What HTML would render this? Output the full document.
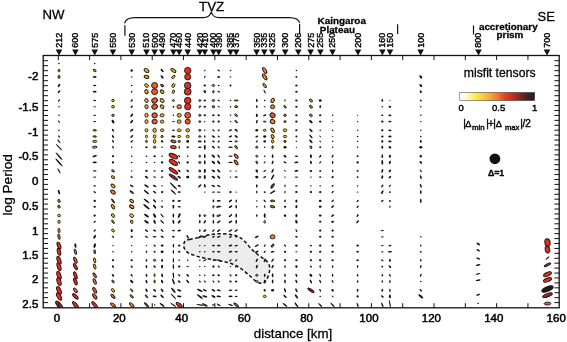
<!DOCTYPE html>
<html lang="en"><head><meta charset="utf-8"><title>misfit tensors</title>
<style>html,body{margin:0;padding:0;background:#fff;}svg{display:block;}text{font-family:"Liberation Sans",Arial,Helvetica,sans-serif;fill:#000;stroke:#000;stroke-width:0.28px;}.tk{stroke-width:0.5px;}.st{stroke-width:0.38px;}.cb{stroke-width:0.42px;}.fm{stroke-width:0.4px;}</style>
</head><body>
<svg width="567" height="342" viewBox="0 0 567 342">
<rect x="0" y="0" width="567" height="342" fill="#ffffff"/>
<defs><linearGradient id="cb" x1="0" y1="0" x2="1" y2="0"><stop offset="0" stop-color="#ffffff"/><stop offset="0.08" stop-color="#fffbe0"/><stop offset="0.2" stop-color="#fbee4a"/><stop offset="0.35" stop-color="#f7c038"/><stop offset="0.5" stop-color="#f07a2c"/><stop offset="0.62" stop-color="#e23a22"/><stop offset="0.75" stop-color="#a82a20"/><stop offset="0.88" stop-color="#4a2624"/><stop offset="1" stop-color="#1e1e20"/></linearGradient><clipPath id="pc"><rect x="43.2" y="55.5" width="516.0" height="252.3"/></clipPath></defs>
<path d="M189.5,239.5C191.6,239.0 195.2,238.3 198.3,237.6C201.4,236.9 204.4,235.8 208.0,235.1C211.6,234.4 215.7,233.8 219.6,233.7C223.5,233.6 228.1,234.1 231.3,234.7C234.5,235.2 236.8,235.9 239.0,237.0C241.2,238.1 242.7,239.5 244.8,241.5C246.9,243.5 249.3,246.9 251.6,249.2C253.9,251.5 256.1,253.3 258.4,255.1C260.7,256.9 263.4,258.3 265.2,259.9C267.0,261.5 268.4,263.0 269.1,264.8C269.8,266.6 269.8,268.5 269.6,270.6C269.4,272.7 268.5,275.4 267.7,277.4C266.9,279.4 265.8,281.4 264.6,282.4C263.4,283.4 261.9,283.4 260.4,283.2C258.9,282.9 257.3,282.1 255.5,280.9C253.7,279.7 251.8,277.6 249.7,275.8C247.6,274.0 245.3,271.8 242.9,270.0C240.5,268.2 237.8,266.6 235.1,265.3C232.3,264.0 229.5,263.0 226.4,262.2C223.3,261.4 220.1,260.9 216.7,260.3C213.3,259.7 209.4,259.1 206.0,258.4C202.6,257.7 199.2,256.9 196.3,256.0C193.4,255.1 190.5,254.2 188.6,253.1C186.7,252.0 185.5,250.6 184.7,249.2C183.9,247.8 183.5,245.8 183.7,244.4C183.9,243.0 184.7,241.3 185.7,240.5C186.7,239.7 187.4,240.0 189.5,239.5Z" fill="#ececec" stroke="#111" stroke-width="1.5" stroke-dasharray="3.4 2.3" stroke-linecap="butt"/>
<g clip-path="url(#pc)">
<ellipse cx="59.0" cy="63.5" rx="0.80" ry="0.72" fill="#111111"/>
<ellipse cx="59.0" cy="70.5" rx="1.35" ry="0.95" fill="#9a9833" stroke="#201e0c" stroke-width="0.9" transform="rotate(90 59.0 70.5)"/>
<ellipse cx="59.0" cy="76.9" rx="1.55" ry="1.05" fill="#9a9833" stroke="#201e0c" stroke-width="0.9" transform="rotate(90 59.0 76.9)"/>
<ellipse cx="59.0" cy="85.5" rx="1.90" ry="0.92" fill="#111111" transform="rotate(-55 59.0 85.5)"/>
<ellipse cx="59.0" cy="91.7" rx="1.80" ry="0.82" fill="#111111" transform="rotate(-50 59.0 91.7)"/>
<ellipse cx="59.0" cy="100.5" rx="1.40" ry="0.62" fill="#111111" transform="rotate(-50 59.0 100.5)"/>
<ellipse cx="59.0" cy="106.7" rx="0.80" ry="0.72" fill="#111111"/>
<ellipse cx="59.0" cy="115.3" rx="0.80" ry="0.72" fill="#111111"/>
<ellipse cx="59.0" cy="121.6" rx="1.30" ry="0.62" fill="#111111" transform="rotate(45 59.0 121.6)"/>
<ellipse cx="59.0" cy="130.3" rx="0.80" ry="0.72" fill="#111111"/>
<ellipse cx="59.0" cy="136.5" rx="1.40" ry="0.62" fill="#111111" transform="rotate(50 59.0 136.5)"/>
<ellipse cx="59.0" cy="141.4" rx="2.30" ry="0.62" fill="#111111" transform="rotate(50 59.0 141.4)"/>
<ellipse cx="59.0" cy="147.2" rx="4.40" ry="0.62" fill="#111111" transform="rotate(48 59.0 147.2)"/>
<ellipse cx="59.0" cy="156.2" rx="4.90" ry="0.67" fill="#111111" transform="rotate(48 59.0 156.2)"/>
<ellipse cx="59.0" cy="162.4" rx="5.30" ry="0.77" fill="#111111" transform="rotate(48 59.0 162.4)"/>
<ellipse cx="59.0" cy="170.9" rx="2.90" ry="0.57" fill="#111111" transform="rotate(60 59.0 170.9)"/>
<ellipse cx="59.0" cy="192.1" rx="2.40" ry="0.92" fill="#111111" transform="rotate(70 59.0 192.1)"/>
<ellipse cx="59.0" cy="200.9" rx="1.45" ry="1.05" fill="#9a9833" stroke="#201e0c" stroke-width="0.9" transform="rotate(60 59.0 200.9)"/>
<ellipse cx="59.0" cy="206.7" rx="1.45" ry="1.05" fill="#9a9833" stroke="#201e0c" stroke-width="0.9" transform="rotate(60 59.0 206.7)"/>
<ellipse cx="59.0" cy="215.6" rx="1.45" ry="1.25" fill="#e2cd35" stroke="#201e0c" stroke-width="0.9"/>
<ellipse cx="59.0" cy="221.8" rx="1.65" ry="1.15" fill="#e2cd35" stroke="#201e0c" stroke-width="0.9" transform="rotate(90 59.0 221.8)"/>
<ellipse cx="59.0" cy="230.6" rx="2.42" ry="1.02" fill="#f3ac33" stroke="#201e0c" stroke-width="0.95" transform="rotate(85 59.0 230.6)"/>
<ellipse cx="59.0" cy="236.8" rx="2.62" ry="1.02" fill="#ee8632" stroke="#24100c" stroke-width="0.95" transform="rotate(80 59.0 236.8)"/>
<ellipse cx="59.0" cy="245.6" rx="3.62" ry="1.62" fill="#dd3023" stroke="#24100c" stroke-width="0.95" transform="rotate(70 59.0 245.6)"/>
<ellipse cx="59.0" cy="251.8" rx="3.62" ry="1.62" fill="#dd3023" stroke="#24100c" stroke-width="0.95" transform="rotate(75 59.0 251.8)"/>
<ellipse cx="59.0" cy="260.3" rx="4.12" ry="1.73" fill="#dd3023" stroke="#24100c" stroke-width="0.95" transform="rotate(70 59.0 260.3)"/>
<ellipse cx="59.0" cy="266.6" rx="4.12" ry="1.73" fill="#dd3023" stroke="#24100c" stroke-width="0.95" transform="rotate(72 59.0 266.6)"/>
<ellipse cx="59.0" cy="275.3" rx="4.12" ry="1.83" fill="#dd3023" stroke="#24100c" stroke-width="0.95" transform="rotate(70 59.0 275.3)"/>
<ellipse cx="59.0" cy="281.5" rx="4.12" ry="1.83" fill="#dd3023" stroke="#24100c" stroke-width="0.95" transform="rotate(72 59.0 281.5)"/>
<ellipse cx="59.0" cy="290.3" rx="4.12" ry="1.83" fill="#dd3023" stroke="#24100c" stroke-width="0.95" transform="rotate(65 59.0 290.3)"/>
<ellipse cx="59.0" cy="296.4" rx="4.12" ry="1.83" fill="#dd3023" stroke="#24100c" stroke-width="0.95" transform="rotate(60 59.0 296.4)"/>
<ellipse cx="59.0" cy="304.9" rx="4.62" ry="1.92" fill="#8f2a20" stroke="#24100c" stroke-width="0.95" transform="rotate(50 59.0 304.9)"/>
<ellipse cx="75.4" cy="245.6" rx="2.30" ry="1.02" fill="#111111" transform="rotate(80 75.4 245.6)"/>
<ellipse cx="75.4" cy="251.8" rx="2.62" ry="1.02" fill="#ee8632" stroke="#24100c" stroke-width="0.95" transform="rotate(75 75.4 251.8)"/>
<ellipse cx="75.4" cy="260.3" rx="3.23" ry="1.33" fill="#ea5a2c" stroke="#24100c" stroke-width="0.95" transform="rotate(68 75.4 260.3)"/>
<ellipse cx="75.4" cy="266.6" rx="3.42" ry="1.33" fill="#dd3023" stroke="#24100c" stroke-width="0.95" transform="rotate(62 75.4 266.6)"/>
<ellipse cx="75.4" cy="275.3" rx="3.62" ry="1.43" fill="#dd3023" stroke="#24100c" stroke-width="0.95" transform="rotate(70 75.4 275.3)"/>
<ellipse cx="75.4" cy="281.5" rx="3.62" ry="1.43" fill="#dd3023" stroke="#24100c" stroke-width="0.95" transform="rotate(70 75.4 281.5)"/>
<ellipse cx="75.4" cy="290.3" rx="2.62" ry="1.23" fill="#ee8632" stroke="#24100c" stroke-width="0.95" transform="rotate(50 75.4 290.3)"/>
<ellipse cx="75.4" cy="296.4" rx="3.62" ry="1.43" fill="#dd3023" stroke="#24100c" stroke-width="0.95" transform="rotate(45 75.4 296.4)"/>
<ellipse cx="75.4" cy="304.9" rx="4.12" ry="1.52" fill="#dd3023" stroke="#24100c" stroke-width="0.95" transform="rotate(50 75.4 304.9)"/>
<ellipse cx="94.7" cy="63.5" rx="0.80" ry="0.72" fill="#111111"/>
<ellipse cx="94.7" cy="70.5" rx="1.45" ry="1.05" fill="#e2cd35" stroke="#201e0c" stroke-width="0.9" transform="rotate(30 94.7 70.5)"/>
<ellipse cx="94.7" cy="76.9" rx="1.90" ry="0.92" fill="#111111"/>
<ellipse cx="94.7" cy="85.5" rx="1.70" ry="0.72" fill="#111111"/>
<ellipse cx="94.7" cy="91.7" rx="1.90" ry="0.92" fill="#111111"/>
<ellipse cx="94.7" cy="100.5" rx="1.40" ry="0.72" fill="#111111"/>
<ellipse cx="94.7" cy="106.7" rx="1.30" ry="0.57" fill="#111111"/>
<ellipse cx="94.7" cy="115.3" rx="1.50" ry="0.62" fill="#111111"/>
<ellipse cx="94.7" cy="121.6" rx="1.50" ry="0.72" fill="#111111"/>
<ellipse cx="94.7" cy="130.3" rx="1.85" ry="0.65" fill="#9a9833" stroke="#201e0c" stroke-width="0.9" transform="rotate(5 94.7 130.3)"/>
<ellipse cx="94.7" cy="136.5" rx="1.85" ry="0.65" fill="#9a9833" stroke="#201e0c" stroke-width="0.9" transform="rotate(5 94.7 136.5)"/>
<ellipse cx="94.7" cy="141.4" rx="2.12" ry="1.02" fill="#e2cd35" stroke="#201e0c" stroke-width="0.95"/>
<ellipse cx="94.7" cy="147.2" rx="2.12" ry="0.93" fill="#e2cd35" stroke="#201e0c" stroke-width="0.95" transform="rotate(-8 94.7 147.2)"/>
<ellipse cx="94.7" cy="156.2" rx="2.30" ry="0.92" fill="#111111" transform="rotate(-15 94.7 156.2)"/>
<ellipse cx="94.7" cy="162.4" rx="2.10" ry="0.92" fill="#111111" transform="rotate(-5 94.7 162.4)"/>
<ellipse cx="94.7" cy="170.9" rx="1.90" ry="0.72" fill="#111111"/>
<ellipse cx="94.7" cy="177.1" rx="1.70" ry="0.62" fill="#111111"/>
<ellipse cx="94.7" cy="185.9" rx="1.40" ry="0.72" fill="#111111"/>
<ellipse cx="94.7" cy="192.1" rx="1.40" ry="0.72" fill="#111111" transform="rotate(35 94.7 192.1)"/>
<ellipse cx="94.7" cy="200.9" rx="1.20" ry="1.07" fill="#111111"/>
<ellipse cx="94.7" cy="206.7" rx="1.20" ry="1.07" fill="#111111"/>
<ellipse cx="94.7" cy="215.6" rx="1.20" ry="1.07" fill="#111111"/>
<ellipse cx="94.7" cy="221.8" rx="1.40" ry="0.72" fill="#111111" transform="rotate(-45 94.7 221.8)"/>
<ellipse cx="94.7" cy="230.6" rx="1.50" ry="0.72" fill="#111111" transform="rotate(-50 94.7 230.6)"/>
<ellipse cx="94.7" cy="236.8" rx="2.10" ry="1.02" fill="#111111" transform="rotate(-65 94.7 236.8)"/>
<ellipse cx="94.7" cy="245.6" rx="2.40" ry="1.12" fill="#111111" transform="rotate(-75 94.7 245.6)"/>
<ellipse cx="94.7" cy="251.8" rx="2.12" ry="0.82" fill="#9a9833" stroke="#201e0c" stroke-width="0.95" transform="rotate(85 94.7 251.8)"/>
<ellipse cx="94.7" cy="260.3" rx="2.42" ry="1.02" fill="#e2cd35" stroke="#201e0c" stroke-width="0.95" transform="rotate(78 94.7 260.3)"/>
<ellipse cx="94.7" cy="266.6" rx="2.62" ry="1.12" fill="#f3ac33" stroke="#201e0c" stroke-width="0.95" transform="rotate(72 94.7 266.6)"/>
<ellipse cx="94.7" cy="275.3" rx="2.62" ry="1.12" fill="#ee8632" stroke="#24100c" stroke-width="0.95" transform="rotate(60 94.7 275.3)"/>
<ellipse cx="94.7" cy="281.5" rx="2.83" ry="1.23" fill="#ee8632" stroke="#24100c" stroke-width="0.95" transform="rotate(65 94.7 281.5)"/>
<ellipse cx="94.7" cy="290.3" rx="3.12" ry="1.33" fill="#ea5a2c" stroke="#24100c" stroke-width="0.95" transform="rotate(60 94.7 290.3)"/>
<ellipse cx="94.7" cy="296.4" rx="3.12" ry="1.43" fill="#ea5a2c" stroke="#24100c" stroke-width="0.95" transform="rotate(55 94.7 296.4)"/>
<ellipse cx="94.7" cy="304.9" rx="4.12" ry="1.43" fill="#dd3023" stroke="#24100c" stroke-width="0.95" transform="rotate(50 94.7 304.9)"/>
<ellipse cx="113.0" cy="100.5" rx="1.35" ry="1.15" fill="#e2cd35" stroke="#201e0c" stroke-width="0.9"/>
<ellipse cx="113.0" cy="106.7" rx="1.45" ry="1.25" fill="#e2cd35" stroke="#201e0c" stroke-width="0.9"/>
<ellipse cx="113.0" cy="115.3" rx="1.35" ry="1.05" fill="#9a9833" stroke="#201e0c" stroke-width="0.9"/>
<ellipse cx="113.0" cy="121.6" rx="2.10" ry="1.12" fill="#111111" transform="rotate(60 113.0 121.6)"/>
<ellipse cx="113.0" cy="130.3" rx="1.60" ry="0.82" fill="#111111" transform="rotate(55 113.0 130.3)"/>
<ellipse cx="113.0" cy="136.5" rx="1.70" ry="0.82" fill="#111111" transform="rotate(55 113.0 136.5)"/>
<ellipse cx="113.0" cy="141.4" rx="1.60" ry="0.72" fill="#111111" transform="rotate(55 113.0 141.4)"/>
<ellipse cx="113.0" cy="147.2" rx="1.50" ry="0.72" fill="#111111" transform="rotate(80 113.0 147.2)"/>
<ellipse cx="113.0" cy="156.2" rx="1.20" ry="1.07" fill="#111111"/>
<ellipse cx="113.0" cy="162.4" rx="1.20" ry="1.07" fill="#111111"/>
<ellipse cx="113.0" cy="170.9" rx="1.45" ry="0.85" fill="#9a9833" stroke="#201e0c" stroke-width="0.9" transform="rotate(30 113.0 170.9)"/>
<ellipse cx="113.0" cy="177.1" rx="1.85" ry="1.15" fill="#e2cd35" stroke="#201e0c" stroke-width="0.9" transform="rotate(30 113.0 177.1)"/>
<ellipse cx="113.0" cy="185.9" rx="2.42" ry="1.43" fill="#f3ac33" stroke="#201e0c" stroke-width="0.95" transform="rotate(40 113.0 185.9)"/>
<ellipse cx="113.0" cy="192.1" rx="2.62" ry="1.62" fill="#ee8632" stroke="#24100c" stroke-width="0.95" transform="rotate(40 113.0 192.1)"/>
<ellipse cx="113.0" cy="200.9" rx="2.42" ry="0.62" fill="#9a9833" stroke="#201e0c" stroke-width="0.95" transform="rotate(55 113.0 200.9)"/>
<ellipse cx="113.0" cy="206.7" rx="2.42" ry="1.23" fill="#f3ac33" stroke="#201e0c" stroke-width="0.95" transform="rotate(60 113.0 206.7)"/>
<ellipse cx="113.0" cy="215.6" rx="2.05" ry="1.35" fill="#e2cd35" stroke="#201e0c" stroke-width="0.9" transform="rotate(55 113.0 215.6)"/>
<ellipse cx="113.0" cy="221.8" rx="2.05" ry="0.75" fill="#9a9833" stroke="#201e0c" stroke-width="0.9" transform="rotate(55 113.0 221.8)"/>
<ellipse cx="113.0" cy="230.6" rx="1.65" ry="1.15" fill="#e2cd35" stroke="#201e0c" stroke-width="0.9" transform="rotate(45 113.0 230.6)"/>
<ellipse cx="113.0" cy="236.8" rx="1.50" ry="0.72" fill="#111111" transform="rotate(40 113.0 236.8)"/>
<ellipse cx="113.0" cy="245.6" rx="0.80" ry="0.72" fill="#111111"/>
<ellipse cx="113.0" cy="251.8" rx="0.80" ry="0.72" fill="#111111"/>
<ellipse cx="113.0" cy="260.3" rx="1.20" ry="1.07" fill="#111111"/>
<ellipse cx="113.0" cy="266.6" rx="1.40" ry="0.82" fill="#111111" transform="rotate(50 113.0 266.6)"/>
<ellipse cx="113.0" cy="275.3" rx="1.60" ry="0.92" fill="#111111" transform="rotate(50 113.0 275.3)"/>
<ellipse cx="113.0" cy="281.5" rx="1.65" ry="0.85" fill="#9a9833" stroke="#201e0c" stroke-width="0.9" transform="rotate(55 113.0 281.5)"/>
<ellipse cx="113.0" cy="290.3" rx="2.05" ry="1.25" fill="#e2cd35" stroke="#201e0c" stroke-width="0.9" transform="rotate(50 113.0 290.3)"/>
<ellipse cx="113.0" cy="296.4" rx="2.62" ry="1.12" fill="#ee8632" stroke="#24100c" stroke-width="0.95" transform="rotate(45 113.0 296.4)"/>
<ellipse cx="113.0" cy="304.9" rx="2.92" ry="1.12" fill="#ee8632" stroke="#24100c" stroke-width="0.95" transform="rotate(35 113.0 304.9)"/>
<ellipse cx="131.7" cy="70.5" rx="1.30" ry="1.02" fill="#111111" transform="rotate(-30 131.7 70.5)"/>
<ellipse cx="131.7" cy="76.9" rx="0.80" ry="0.72" fill="#111111"/>
<ellipse cx="131.7" cy="85.5" rx="0.80" ry="0.72" fill="#111111"/>
<ellipse cx="131.7" cy="91.7" rx="1.20" ry="0.62" fill="#111111" transform="rotate(-60 131.7 91.7)"/>
<ellipse cx="131.7" cy="100.5" rx="1.50" ry="0.82" fill="#111111" transform="rotate(-50 131.7 100.5)"/>
<ellipse cx="131.7" cy="106.7" rx="1.50" ry="0.82" fill="#111111" transform="rotate(-50 131.7 106.7)"/>
<ellipse cx="131.7" cy="115.3" rx="2.00" ry="0.92" fill="#111111" transform="rotate(-50 131.7 115.3)"/>
<ellipse cx="131.7" cy="121.6" rx="2.00" ry="0.92" fill="#111111" transform="rotate(-45 131.7 121.6)"/>
<ellipse cx="131.7" cy="130.3" rx="2.00" ry="0.92" fill="#111111" transform="rotate(-40 131.7 130.3)"/>
<ellipse cx="131.7" cy="136.5" rx="1.90" ry="0.82" fill="#111111" transform="rotate(-45 131.7 136.5)"/>
<ellipse cx="131.7" cy="141.4" rx="1.60" ry="0.72" fill="#111111" transform="rotate(-40 131.7 141.4)"/>
<ellipse cx="131.7" cy="147.2" rx="0.80" ry="0.72" fill="#111111"/>
<ellipse cx="131.7" cy="156.2" rx="0.80" ry="0.72" fill="#111111"/>
<ellipse cx="131.7" cy="162.4" rx="0.80" ry="0.72" fill="#111111"/>
<ellipse cx="131.7" cy="170.9" rx="0.80" ry="0.72" fill="#111111"/>
<ellipse cx="131.7" cy="177.1" rx="1.30" ry="0.72" fill="#111111" transform="rotate(35 131.7 177.1)"/>
<ellipse cx="131.7" cy="185.9" rx="2.10" ry="0.82" fill="#111111" transform="rotate(30 131.7 185.9)"/>
<ellipse cx="131.7" cy="192.1" rx="2.12" ry="0.62" fill="#9a9833" stroke="#201e0c" stroke-width="0.95" transform="rotate(35 131.7 192.1)"/>
<ellipse cx="131.7" cy="200.9" rx="2.12" ry="1.33" fill="#e2cd35" stroke="#201e0c" stroke-width="0.95" transform="rotate(35 131.7 200.9)"/>
<ellipse cx="131.7" cy="206.7" rx="2.42" ry="1.52" fill="#ee8632" stroke="#24100c" stroke-width="0.95" transform="rotate(30 131.7 206.7)"/>
<ellipse cx="131.7" cy="215.6" rx="2.05" ry="1.65" fill="#e2cd35" stroke="#201e0c" stroke-width="0.9" transform="rotate(35 131.7 215.6)"/>
<ellipse cx="131.7" cy="221.8" rx="1.65" ry="1.15" fill="#e2cd35" stroke="#201e0c" stroke-width="0.9" transform="rotate(60 131.7 221.8)"/>
<ellipse cx="131.7" cy="230.6" rx="1.70" ry="1.02" fill="#111111" transform="rotate(85 131.7 230.6)"/>
<ellipse cx="131.7" cy="236.8" rx="1.20" ry="1.07" fill="#111111"/>
<ellipse cx="131.7" cy="245.6" rx="0.80" ry="0.72" fill="#111111"/>
<ellipse cx="131.7" cy="251.8" rx="0.80" ry="0.72" fill="#111111"/>
<ellipse cx="131.7" cy="260.3" rx="1.20" ry="1.07" fill="#111111"/>
<ellipse cx="131.7" cy="266.6" rx="1.30" ry="0.82" fill="#111111" transform="rotate(50 131.7 266.6)"/>
<ellipse cx="131.7" cy="275.3" rx="1.50" ry="0.82" fill="#111111" transform="rotate(50 131.7 275.3)"/>
<ellipse cx="131.7" cy="281.5" rx="2.10" ry="1.02" fill="#111111" transform="rotate(45 131.7 281.5)"/>
<ellipse cx="131.7" cy="290.3" rx="1.85" ry="0.65" fill="#9a9833" stroke="#201e0c" stroke-width="0.9" transform="rotate(50 131.7 290.3)"/>
<ellipse cx="131.7" cy="296.4" rx="2.05" ry="0.95" fill="#9a9833" stroke="#201e0c" stroke-width="0.9" transform="rotate(45 131.7 296.4)"/>
<ellipse cx="131.7" cy="304.9" rx="2.83" ry="1.23" fill="#ee8632" stroke="#24100c" stroke-width="0.95" transform="rotate(45 131.7 304.9)"/>
<ellipse cx="146.5" cy="70.5" rx="2.62" ry="1.62" fill="#f3ac33" stroke="#201e0c" stroke-width="0.95" transform="rotate(35 146.5 70.5)"/>
<ellipse cx="146.5" cy="76.9" rx="2.42" ry="1.43" fill="#f3ac33" stroke="#201e0c" stroke-width="0.95" transform="rotate(20 146.5 76.9)"/>
<ellipse cx="146.5" cy="85.5" rx="2.05" ry="1.65" fill="#f3ac33" stroke="#201e0c" stroke-width="0.9" transform="rotate(45 146.5 85.5)"/>
<ellipse cx="146.5" cy="91.7" rx="2.12" ry="1.62" fill="#f3ac33" stroke="#201e0c" stroke-width="0.95" transform="rotate(60 146.5 91.7)"/>
<ellipse cx="146.5" cy="100.5" rx="2.05" ry="1.65" fill="#f3ac33" stroke="#201e0c" stroke-width="0.9" transform="rotate(70 146.5 100.5)"/>
<ellipse cx="146.5" cy="106.7" rx="2.05" ry="1.65" fill="#f3ac33" stroke="#201e0c" stroke-width="0.9" transform="rotate(80 146.5 106.7)"/>
<ellipse cx="146.5" cy="115.3" rx="2.05" ry="1.65" fill="#f3ac33" stroke="#201e0c" stroke-width="0.9" transform="rotate(90 146.5 115.3)"/>
<ellipse cx="146.5" cy="121.6" rx="1.95" ry="1.55" fill="#f3ac33" stroke="#201e0c" stroke-width="0.9" transform="rotate(90 146.5 121.6)"/>
<ellipse cx="146.5" cy="130.3" rx="1.65" ry="1.45" fill="#e2cd35" stroke="#201e0c" stroke-width="0.9" transform="rotate(90 146.5 130.3)"/>
<ellipse cx="146.5" cy="136.5" rx="1.35" ry="1.05" fill="#e2cd35" stroke="#201e0c" stroke-width="0.9" transform="rotate(90 146.5 136.5)"/>
<ellipse cx="146.5" cy="141.4" rx="1.15" ry="0.95" fill="#9a9833" stroke="#201e0c" stroke-width="0.9" transform="rotate(90 146.5 141.4)"/>
<ellipse cx="146.5" cy="147.2" rx="1.20" ry="1.07" fill="#111111"/>
<ellipse cx="146.5" cy="156.2" rx="0.80" ry="0.72" fill="#111111"/>
<ellipse cx="146.5" cy="162.4" rx="0.80" ry="0.72" fill="#111111"/>
<ellipse cx="146.5" cy="170.9" rx="1.20" ry="1.07" fill="#111111"/>
<ellipse cx="146.5" cy="177.1" rx="1.90" ry="0.92" fill="#111111" transform="rotate(30 146.5 177.1)"/>
<ellipse cx="146.5" cy="185.9" rx="2.60" ry="0.92" fill="#111111" transform="rotate(35 146.5 185.9)"/>
<ellipse cx="146.5" cy="192.1" rx="3.30" ry="0.82" fill="#111111" transform="rotate(40 146.5 192.1)"/>
<ellipse cx="146.5" cy="200.9" rx="3.60" ry="0.82" fill="#111111" transform="rotate(40 146.5 200.9)"/>
<ellipse cx="146.5" cy="206.7" rx="4.10" ry="0.92" fill="#111111" transform="rotate(40 146.5 206.7)"/>
<ellipse cx="146.5" cy="215.6" rx="2.90" ry="1.02" fill="#111111" transform="rotate(35 146.5 215.6)"/>
<ellipse cx="146.5" cy="221.8" rx="2.70" ry="1.02" fill="#111111" transform="rotate(35 146.5 221.8)"/>
<ellipse cx="146.5" cy="230.6" rx="1.90" ry="0.82" fill="#111111" transform="rotate(35 146.5 230.6)"/>
<ellipse cx="146.5" cy="236.8" rx="1.70" ry="0.72" fill="#111111" transform="rotate(30 146.5 236.8)"/>
<ellipse cx="146.5" cy="245.6" rx="0.80" ry="0.72" fill="#111111"/>
<ellipse cx="146.5" cy="251.8" rx="1.30" ry="0.72" fill="#111111" transform="rotate(90 146.5 251.8)"/>
<ellipse cx="146.5" cy="260.3" rx="1.50" ry="0.72" fill="#111111" transform="rotate(90 146.5 260.3)"/>
<ellipse cx="146.5" cy="266.6" rx="1.60" ry="0.82" fill="#111111" transform="rotate(90 146.5 266.6)"/>
<ellipse cx="146.5" cy="275.3" rx="1.70" ry="0.82" fill="#111111" transform="rotate(75 146.5 275.3)"/>
<ellipse cx="146.5" cy="281.5" rx="1.90" ry="0.92" fill="#111111" transform="rotate(75 146.5 281.5)"/>
<ellipse cx="146.5" cy="290.3" rx="1.90" ry="0.92" fill="#111111" transform="rotate(60 146.5 290.3)"/>
<ellipse cx="146.5" cy="296.4" rx="1.85" ry="0.65" fill="#9a9833" stroke="#201e0c" stroke-width="0.9" transform="rotate(55 146.5 296.4)"/>
<ellipse cx="146.5" cy="304.9" rx="2.83" ry="0.73" fill="#9a9833" stroke="#201e0c" stroke-width="0.95" transform="rotate(45 146.5 304.9)"/>
<ellipse cx="154.6" cy="85.5" rx="3.02" ry="2.92" fill="#ea5a2c" stroke="#24100c" stroke-width="0.95"/>
<ellipse cx="154.6" cy="91.7" rx="3.02" ry="2.92" fill="#ea5a2c" stroke="#24100c" stroke-width="0.95"/>
<ellipse cx="154.6" cy="100.5" rx="2.83" ry="2.42" fill="#ea5a2c" stroke="#24100c" stroke-width="0.95" transform="rotate(-30 154.6 100.5)"/>
<ellipse cx="154.6" cy="106.7" rx="2.83" ry="2.42" fill="#ea5a2c" stroke="#24100c" stroke-width="0.95" transform="rotate(-30 154.6 106.7)"/>
<ellipse cx="154.6" cy="115.3" rx="2.73" ry="2.52" fill="#ea5a2c" stroke="#24100c" stroke-width="0.95"/>
<ellipse cx="154.6" cy="121.6" rx="2.62" ry="2.33" fill="#ea5a2c" stroke="#24100c" stroke-width="0.95"/>
<ellipse cx="154.6" cy="130.3" rx="2.05" ry="1.75" fill="#f3ac33" stroke="#201e0c" stroke-width="0.9" transform="rotate(90 154.6 130.3)"/>
<ellipse cx="154.6" cy="136.5" rx="1.85" ry="1.35" fill="#e2cd35" stroke="#201e0c" stroke-width="0.9" transform="rotate(90 154.6 136.5)"/>
<ellipse cx="154.6" cy="141.4" rx="1.85" ry="1.25" fill="#e2cd35" stroke="#201e0c" stroke-width="0.9" transform="rotate(90 154.6 141.4)"/>
<ellipse cx="154.6" cy="147.2" rx="1.25" ry="1.05" fill="#9a9833" stroke="#201e0c" stroke-width="0.9"/>
<ellipse cx="154.6" cy="156.2" rx="1.20" ry="1.07" fill="#111111"/>
<ellipse cx="154.6" cy="162.4" rx="0.80" ry="0.72" fill="#111111"/>
<ellipse cx="154.6" cy="170.9" rx="1.30" ry="0.72" fill="#111111"/>
<ellipse cx="154.6" cy="177.1" rx="1.40" ry="0.72" fill="#111111" transform="rotate(10 154.6 177.1)"/>
<ellipse cx="154.6" cy="185.9" rx="1.90" ry="0.82" fill="#111111" transform="rotate(25 154.6 185.9)"/>
<ellipse cx="154.6" cy="192.1" rx="1.90" ry="0.82" fill="#111111" transform="rotate(35 154.6 192.1)"/>
<ellipse cx="154.6" cy="200.9" rx="2.10" ry="0.82" fill="#111111" transform="rotate(40 154.6 200.9)"/>
<ellipse cx="154.6" cy="206.7" rx="2.30" ry="1.02" fill="#111111" transform="rotate(50 154.6 206.7)"/>
<ellipse cx="154.6" cy="215.6" rx="2.30" ry="1.12" fill="#111111" transform="rotate(60 154.6 215.6)"/>
<ellipse cx="154.6" cy="221.8" rx="2.10" ry="1.02" fill="#111111" transform="rotate(65 154.6 221.8)"/>
<ellipse cx="154.6" cy="230.6" rx="1.70" ry="0.82" fill="#111111" transform="rotate(20 154.6 230.6)"/>
<ellipse cx="154.6" cy="236.8" rx="1.90" ry="0.82" fill="#111111"/>
<ellipse cx="154.6" cy="245.6" rx="1.30" ry="0.72" fill="#111111" transform="rotate(40 154.6 245.6)"/>
<ellipse cx="154.6" cy="251.8" rx="1.30" ry="0.72" fill="#111111" transform="rotate(40 154.6 251.8)"/>
<ellipse cx="154.6" cy="260.3" rx="1.15" ry="0.95" fill="#9a9833" stroke="#201e0c" stroke-width="0.9"/>
<ellipse cx="154.6" cy="266.6" rx="1.40" ry="0.92" fill="#111111" transform="rotate(45 154.6 266.6)"/>
<ellipse cx="154.6" cy="275.3" rx="1.45" ry="0.55" fill="#9a9833" stroke="#201e0c" stroke-width="0.9" transform="rotate(90 154.6 275.3)"/>
<ellipse cx="154.6" cy="281.5" rx="1.45" ry="0.75" fill="#9a9833" stroke="#201e0c" stroke-width="0.9" transform="rotate(90 154.6 281.5)"/>
<ellipse cx="154.6" cy="290.3" rx="1.70" ry="0.92" fill="#111111" transform="rotate(40 154.6 290.3)"/>
<ellipse cx="154.6" cy="296.4" rx="2.10" ry="0.82" fill="#111111" transform="rotate(10 154.6 296.4)"/>
<ellipse cx="154.6" cy="304.9" rx="0.80" ry="0.72" fill="#111111"/>
<ellipse cx="162.1" cy="70.5" rx="2.10" ry="0.92" fill="#111111" transform="rotate(50 162.1 70.5)"/>
<ellipse cx="162.1" cy="76.9" rx="2.10" ry="0.92" fill="#111111" transform="rotate(50 162.1 76.9)"/>
<ellipse cx="162.1" cy="85.5" rx="1.65" ry="0.85" fill="#9a9833" stroke="#201e0c" stroke-width="0.9" transform="rotate(30 162.1 85.5)"/>
<ellipse cx="162.1" cy="91.7" rx="2.12" ry="1.43" fill="#f3ac33" stroke="#201e0c" stroke-width="0.95" transform="rotate(40 162.1 91.7)"/>
<ellipse cx="162.1" cy="100.5" rx="2.23" ry="1.62" fill="#f3ac33" stroke="#201e0c" stroke-width="0.95" transform="rotate(40 162.1 100.5)"/>
<ellipse cx="162.1" cy="106.7" rx="2.12" ry="1.52" fill="#f3ac33" stroke="#201e0c" stroke-width="0.95" transform="rotate(45 162.1 106.7)"/>
<ellipse cx="162.1" cy="115.3" rx="1.95" ry="1.65" fill="#f3ac33" stroke="#201e0c" stroke-width="0.9"/>
<ellipse cx="162.1" cy="121.6" rx="1.75" ry="1.55" fill="#e2cd35" stroke="#201e0c" stroke-width="0.9"/>
<ellipse cx="162.1" cy="130.3" rx="1.65" ry="1.45" fill="#e2cd35" stroke="#201e0c" stroke-width="0.9"/>
<ellipse cx="162.1" cy="136.5" rx="1.25" ry="1.05" fill="#9a9833" stroke="#201e0c" stroke-width="0.9"/>
<ellipse cx="162.1" cy="141.4" rx="1.20" ry="1.07" fill="#111111"/>
<ellipse cx="162.1" cy="147.2" rx="0.80" ry="0.72" fill="#111111"/>
<ellipse cx="162.1" cy="156.2" rx="0.80" ry="0.72" fill="#111111"/>
<ellipse cx="162.1" cy="162.4" rx="1.20" ry="1.07" fill="#111111"/>
<ellipse cx="162.1" cy="170.9" rx="1.30" ry="0.72" fill="#111111" transform="rotate(-40 162.1 170.9)"/>
<ellipse cx="162.1" cy="177.1" rx="1.40" ry="0.72" fill="#111111" transform="rotate(-15 162.1 177.1)"/>
<ellipse cx="162.1" cy="185.9" rx="0.80" ry="0.72" fill="#111111"/>
<ellipse cx="162.1" cy="192.1" rx="1.20" ry="1.07" fill="#111111"/>
<ellipse cx="162.1" cy="200.9" rx="0.80" ry="0.72" fill="#111111"/>
<ellipse cx="162.1" cy="206.7" rx="1.40" ry="0.72" fill="#111111" transform="rotate(45 162.1 206.7)"/>
<ellipse cx="162.1" cy="215.6" rx="2.50" ry="0.62" fill="#111111" transform="rotate(50 162.1 215.6)"/>
<ellipse cx="162.1" cy="221.8" rx="2.50" ry="0.72" fill="#111111" transform="rotate(45 162.1 221.8)"/>
<ellipse cx="162.1" cy="230.6" rx="1.90" ry="0.72" fill="#111111" transform="rotate(45 162.1 230.6)"/>
<ellipse cx="162.1" cy="236.8" rx="1.70" ry="0.82" fill="#111111" transform="rotate(30 162.1 236.8)"/>
<ellipse cx="162.1" cy="245.6" rx="1.50" ry="1.12" fill="#111111"/>
<ellipse cx="162.1" cy="251.8" rx="1.50" ry="1.22" fill="#111111"/>
<ellipse cx="162.1" cy="260.3" rx="1.50" ry="0.92" fill="#111111" transform="rotate(90 162.1 260.3)"/>
<ellipse cx="162.1" cy="266.6" rx="1.90" ry="1.02" fill="#111111" transform="rotate(90 162.1 266.6)"/>
<ellipse cx="162.1" cy="275.3" rx="1.90" ry="0.92" fill="#111111" transform="rotate(75 162.1 275.3)"/>
<ellipse cx="162.1" cy="281.5" rx="1.90" ry="0.92" fill="#111111" transform="rotate(65 162.1 281.5)"/>
<ellipse cx="162.1" cy="290.3" rx="2.10" ry="0.92" fill="#111111" transform="rotate(55 162.1 290.3)"/>
<ellipse cx="162.1" cy="296.4" rx="2.30" ry="0.92" fill="#111111" transform="rotate(45 162.1 296.4)"/>
<ellipse cx="162.1" cy="304.9" rx="3.10" ry="0.82" fill="#111111" transform="rotate(40 162.1 304.9)"/>
<ellipse cx="173.4" cy="70.5" rx="2.83" ry="1.33" fill="#f3ac33" stroke="#201e0c" stroke-width="0.95" transform="rotate(35 173.4 70.5)"/>
<ellipse cx="173.4" cy="76.9" rx="1.95" ry="1.15" fill="#e2cd35" stroke="#201e0c" stroke-width="0.9" transform="rotate(-40 173.4 76.9)"/>
<ellipse cx="173.4" cy="85.5" rx="2.05" ry="1.35" fill="#e2cd35" stroke="#201e0c" stroke-width="0.9" transform="rotate(-70 173.4 85.5)"/>
<ellipse cx="173.4" cy="91.7" rx="1.85" ry="1.05" fill="#e2cd35" stroke="#201e0c" stroke-width="0.9" transform="rotate(-70 173.4 91.7)"/>
<ellipse cx="173.4" cy="100.5" rx="1.05" ry="0.85" fill="#9a9833" stroke="#201e0c" stroke-width="0.9"/>
<ellipse cx="173.4" cy="106.7" rx="1.10" ry="0.72" fill="#111111" transform="rotate(-50 173.4 106.7)"/>
<ellipse cx="173.4" cy="115.3" rx="0.80" ry="0.72" fill="#111111"/>
<ellipse cx="173.4" cy="121.6" rx="1.30" ry="0.62" fill="#111111"/>
<ellipse cx="173.4" cy="130.3" rx="1.40" ry="0.72" fill="#111111"/>
<ellipse cx="173.4" cy="136.5" rx="2.10" ry="0.92" fill="#111111" transform="rotate(10 173.4 136.5)"/>
<ellipse cx="173.4" cy="141.4" rx="2.62" ry="1.12" fill="#ee8632" stroke="#24100c" stroke-width="0.95" transform="rotate(15 173.4 141.4)"/>
<ellipse cx="173.4" cy="147.2" rx="2.83" ry="1.43" fill="#ea5a2c" stroke="#24100c" stroke-width="0.95" transform="rotate(10 173.4 147.2)"/>
<ellipse cx="173.4" cy="156.2" rx="4.62" ry="2.12" fill="#dd3023" stroke="#24100c" stroke-width="0.95" transform="rotate(25 173.4 156.2)"/>
<ellipse cx="173.4" cy="162.4" rx="4.62" ry="2.12" fill="#dd3023" stroke="#24100c" stroke-width="0.95" transform="rotate(30 173.4 162.4)"/>
<ellipse cx="173.4" cy="170.9" rx="5.12" ry="1.62" fill="#dd3023" stroke="#24100c" stroke-width="0.95" transform="rotate(35 173.4 170.9)"/>
<ellipse cx="173.4" cy="177.1" rx="5.12" ry="1.12" fill="#8f2a20" stroke="#24100c" stroke-width="0.95" transform="rotate(35 173.4 177.1)"/>
<ellipse cx="173.4" cy="185.9" rx="5.10" ry="0.72" fill="#111111" transform="rotate(45 173.4 185.9)"/>
<ellipse cx="173.4" cy="192.1" rx="3.60" ry="0.72" fill="#111111" transform="rotate(45 173.4 192.1)"/>
<ellipse cx="173.4" cy="200.9" rx="1.20" ry="1.07" fill="#111111"/>
<ellipse cx="173.4" cy="206.7" rx="1.90" ry="0.92" fill="#111111" transform="rotate(90 173.4 206.7)"/>
<ellipse cx="173.4" cy="215.6" rx="2.10" ry="0.82" fill="#111111" transform="rotate(90 173.4 215.6)"/>
<ellipse cx="173.4" cy="221.8" rx="2.10" ry="0.92" fill="#111111" transform="rotate(80 173.4 221.8)"/>
<ellipse cx="173.4" cy="230.6" rx="1.40" ry="0.82" fill="#111111"/>
<ellipse cx="173.4" cy="236.8" rx="1.20" ry="1.07" fill="#111111"/>
<ellipse cx="173.4" cy="245.6" rx="1.90" ry="0.72" fill="#111111" transform="rotate(90 173.4 245.6)"/>
<ellipse cx="173.4" cy="251.8" rx="1.90" ry="0.72" fill="#111111" transform="rotate(90 173.4 251.8)"/>
<ellipse cx="173.4" cy="260.3" rx="2.60" ry="0.62" fill="#111111" transform="rotate(90 173.4 260.3)"/>
<ellipse cx="173.4" cy="266.6" rx="2.60" ry="0.72" fill="#111111" transform="rotate(90 173.4 266.6)"/>
<ellipse cx="173.4" cy="275.3" rx="3.10" ry="0.72" fill="#111111" transform="rotate(85 173.4 275.3)"/>
<ellipse cx="173.4" cy="281.5" rx="3.30" ry="0.82" fill="#111111" transform="rotate(70 173.4 281.5)"/>
<ellipse cx="173.4" cy="290.3" rx="3.30" ry="0.92" fill="#111111" transform="rotate(50 173.4 290.3)"/>
<ellipse cx="173.4" cy="296.4" rx="3.60" ry="0.62" fill="#111111" transform="rotate(45 173.4 296.4)"/>
<ellipse cx="173.4" cy="304.9" rx="3.60" ry="0.62" fill="#111111" transform="rotate(35 173.4 304.9)"/>
<ellipse cx="179.2" cy="106.7" rx="2.23" ry="2.02" fill="#ee8632" stroke="#24100c" stroke-width="0.95"/>
<ellipse cx="179.2" cy="115.3" rx="2.05" ry="1.85" fill="#f3ac33" stroke="#201e0c" stroke-width="0.9"/>
<ellipse cx="179.2" cy="121.6" rx="1.95" ry="1.75" fill="#f3ac33" stroke="#201e0c" stroke-width="0.9"/>
<ellipse cx="179.2" cy="130.3" rx="1.85" ry="1.35" fill="#e2cd35" stroke="#201e0c" stroke-width="0.9"/>
<ellipse cx="179.2" cy="136.5" rx="1.45" ry="1.15" fill="#e2cd35" stroke="#201e0c" stroke-width="0.9"/>
<ellipse cx="179.2" cy="141.4" rx="1.25" ry="1.05" fill="#9a9833" stroke="#201e0c" stroke-width="0.9"/>
<ellipse cx="179.2" cy="147.2" rx="1.50" ry="0.62" fill="#111111" transform="rotate(90 179.2 147.2)"/>
<ellipse cx="179.2" cy="156.2" rx="1.40" ry="0.62" fill="#111111" transform="rotate(45 179.2 156.2)"/>
<ellipse cx="179.2" cy="162.4" rx="1.50" ry="0.72" fill="#111111" transform="rotate(45 179.2 162.4)"/>
<ellipse cx="179.2" cy="170.9" rx="1.70" ry="0.82" fill="#111111" transform="rotate(40 179.2 170.9)"/>
<ellipse cx="179.2" cy="177.1" rx="1.90" ry="0.92" fill="#111111" transform="rotate(30 179.2 177.1)"/>
<ellipse cx="179.2" cy="185.9" rx="1.60" ry="0.92" fill="#111111" transform="rotate(20 179.2 185.9)"/>
<ellipse cx="179.2" cy="192.1" rx="1.70" ry="0.82" fill="#111111"/>
<ellipse cx="179.2" cy="200.9" rx="1.70" ry="0.92" fill="#111111" transform="rotate(-10 179.2 200.9)"/>
<ellipse cx="179.2" cy="206.7" rx="1.70" ry="0.82" fill="#111111"/>
<ellipse cx="179.2" cy="215.6" rx="2.70" ry="1.02" fill="#111111" transform="rotate(-65 179.2 215.6)"/>
<ellipse cx="179.2" cy="221.8" rx="2.10" ry="0.92" fill="#111111" transform="rotate(-50 179.2 221.8)"/>
<ellipse cx="179.2" cy="230.6" rx="1.90" ry="0.82" fill="#111111" transform="rotate(-15 179.2 230.6)"/>
<ellipse cx="179.2" cy="245.6" rx="1.20" ry="1.07" fill="#111111"/>
<ellipse cx="179.2" cy="251.8" rx="1.20" ry="1.07" fill="#111111"/>
<ellipse cx="179.2" cy="260.3" rx="0.80" ry="0.72" fill="#111111"/>
<ellipse cx="179.2" cy="266.6" rx="1.20" ry="1.07" fill="#111111"/>
<ellipse cx="179.2" cy="275.3" rx="1.50" ry="0.72" fill="#111111" transform="rotate(50 179.2 275.3)"/>
<ellipse cx="179.2" cy="281.5" rx="1.70" ry="0.82" fill="#111111" transform="rotate(40 179.2 281.5)"/>
<ellipse cx="179.2" cy="290.3" rx="2.30" ry="0.92" fill="#111111" transform="rotate(15 179.2 290.3)"/>
<ellipse cx="179.2" cy="296.4" rx="2.30" ry="0.82" fill="#111111" transform="rotate(10 179.2 296.4)"/>
<ellipse cx="179.2" cy="304.9" rx="3.62" ry="1.62" fill="#dd3023" stroke="#24100c" stroke-width="0.95" transform="rotate(40 179.2 304.9)"/>
<ellipse cx="187.7" cy="70.5" rx="3.23" ry="3.12" fill="#dd3023" stroke="#24100c" stroke-width="0.95"/>
<ellipse cx="187.7" cy="76.9" rx="3.02" ry="3.02" fill="#dd3023" stroke="#24100c" stroke-width="0.95"/>
<ellipse cx="187.7" cy="85.5" rx="3.23" ry="3.23" fill="#dd3023" stroke="#24100c" stroke-width="0.95"/>
<ellipse cx="187.7" cy="91.7" rx="3.42" ry="3.42" fill="#dd3023" stroke="#24100c" stroke-width="0.95"/>
<ellipse cx="187.7" cy="100.5" rx="3.23" ry="3.23" fill="#dd3023" stroke="#24100c" stroke-width="0.95"/>
<ellipse cx="187.7" cy="106.7" rx="3.12" ry="3.12" fill="#dd3023" stroke="#24100c" stroke-width="0.95"/>
<ellipse cx="187.7" cy="115.3" rx="2.92" ry="2.92" fill="#ea5a2c" stroke="#24100c" stroke-width="0.95"/>
<ellipse cx="187.7" cy="121.6" rx="2.52" ry="2.52" fill="#ea5a2c" stroke="#24100c" stroke-width="0.95"/>
<ellipse cx="187.7" cy="130.3" rx="1.85" ry="1.65" fill="#f3ac33" stroke="#201e0c" stroke-width="0.9"/>
<ellipse cx="187.7" cy="136.5" rx="1.55" ry="1.35" fill="#e2cd35" stroke="#201e0c" stroke-width="0.9"/>
<ellipse cx="187.7" cy="141.4" rx="1.40" ry="1.32" fill="#111111"/>
<ellipse cx="187.7" cy="147.2" rx="1.20" ry="1.07" fill="#111111"/>
<ellipse cx="187.7" cy="156.2" rx="0.80" ry="0.72" fill="#111111"/>
<ellipse cx="187.7" cy="162.4" rx="1.20" ry="1.07" fill="#111111"/>
<ellipse cx="187.7" cy="170.9" rx="1.50" ry="0.92" fill="#111111" transform="rotate(45 187.7 170.9)"/>
<ellipse cx="187.7" cy="177.1" rx="1.60" ry="1.42" fill="#111111"/>
<ellipse cx="187.7" cy="236.8" rx="2.10" ry="0.82" fill="#111111" transform="rotate(60 187.7 236.8)"/>
<ellipse cx="187.7" cy="260.3" rx="0.80" ry="0.72" fill="#111111"/>
<ellipse cx="187.7" cy="266.6" rx="1.30" ry="0.72" fill="#111111"/>
<ellipse cx="187.7" cy="275.3" rx="1.70" ry="0.82" fill="#111111" transform="rotate(45 187.7 275.3)"/>
<ellipse cx="187.7" cy="281.5" rx="2.10" ry="0.82" fill="#111111" transform="rotate(50 187.7 281.5)"/>
<ellipse cx="199.8" cy="100.5" rx="1.05" ry="0.85" fill="#9a9833" stroke="#201e0c" stroke-width="0.9"/>
<ellipse cx="199.8" cy="106.7" rx="1.05" ry="0.65" fill="#9a9833" stroke="#201e0c" stroke-width="0.9" transform="rotate(-50 199.8 106.7)"/>
<ellipse cx="199.8" cy="115.3" rx="1.15" ry="0.95" fill="#9a9833" stroke="#201e0c" stroke-width="0.9"/>
<ellipse cx="199.8" cy="121.6" rx="1.05" ry="0.85" fill="#9a9833" stroke="#201e0c" stroke-width="0.9"/>
<ellipse cx="199.8" cy="130.3" rx="1.15" ry="0.95" fill="#9a9833" stroke="#201e0c" stroke-width="0.9"/>
<ellipse cx="199.8" cy="136.5" rx="1.15" ry="0.85" fill="#9a9833" stroke="#201e0c" stroke-width="0.9"/>
<ellipse cx="199.8" cy="141.4" rx="1.90" ry="0.92" fill="#111111"/>
<ellipse cx="199.8" cy="147.2" rx="1.90" ry="0.72" fill="#111111"/>
<ellipse cx="199.8" cy="156.2" rx="1.05" ry="0.75" fill="#9a9833" stroke="#201e0c" stroke-width="0.9" transform="rotate(70 199.8 156.2)"/>
<ellipse cx="199.8" cy="162.4" rx="1.15" ry="0.95" fill="#9a9833" stroke="#201e0c" stroke-width="0.9"/>
<ellipse cx="199.8" cy="170.9" rx="1.05" ry="0.85" fill="#9a9833" stroke="#201e0c" stroke-width="0.9" transform="rotate(30 199.8 170.9)"/>
<ellipse cx="199.8" cy="177.1" rx="1.15" ry="0.95" fill="#9a9833" stroke="#201e0c" stroke-width="0.9"/>
<ellipse cx="199.8" cy="185.9" rx="2.10" ry="0.82" fill="#111111" transform="rotate(-40 199.8 185.9)"/>
<ellipse cx="199.8" cy="215.6" rx="1.70" ry="0.92" fill="#111111" transform="rotate(90 199.8 215.6)"/>
<ellipse cx="199.8" cy="221.8" rx="1.70" ry="0.82" fill="#111111" transform="rotate(90 199.8 221.8)"/>
<ellipse cx="199.8" cy="230.6" rx="1.40" ry="0.72" fill="#111111" transform="rotate(90 199.8 230.6)"/>
<ellipse cx="199.8" cy="236.8" rx="2.10" ry="0.82" fill="#111111" transform="rotate(-45 199.8 236.8)"/>
<ellipse cx="199.8" cy="245.6" rx="0.80" ry="0.72" fill="#111111"/>
<ellipse cx="199.8" cy="251.8" rx="0.80" ry="0.72" fill="#111111"/>
<ellipse cx="199.8" cy="260.3" rx="0.80" ry="0.72" fill="#111111"/>
<ellipse cx="199.8" cy="266.6" rx="0.80" ry="0.72" fill="#111111"/>
<ellipse cx="199.8" cy="275.3" rx="0.80" ry="0.72" fill="#111111"/>
<ellipse cx="199.8" cy="281.5" rx="1.30" ry="0.72" fill="#111111" transform="rotate(45 199.8 281.5)"/>
<ellipse cx="199.8" cy="290.3" rx="3.10" ry="0.92" fill="#111111" transform="rotate(25 199.8 290.3)"/>
<ellipse cx="199.8" cy="296.4" rx="3.60" ry="0.92" fill="#111111" transform="rotate(35 199.8 296.4)"/>
<ellipse cx="199.8" cy="304.9" rx="3.60" ry="0.62" fill="#111111" transform="rotate(10 199.8 304.9)"/>
<ellipse cx="204.8" cy="70.5" rx="1.30" ry="0.52" fill="#111111" transform="rotate(-50 204.8 70.5)"/>
<ellipse cx="204.8" cy="76.9" rx="1.20" ry="0.62" fill="#111111" transform="rotate(-50 204.8 76.9)"/>
<ellipse cx="204.8" cy="85.5" rx="1.20" ry="1.07" fill="#111111"/>
<ellipse cx="204.8" cy="91.7" rx="1.25" ry="0.75" fill="#9a9833" stroke="#201e0c" stroke-width="0.9" transform="rotate(60 204.8 91.7)"/>
<ellipse cx="204.8" cy="100.5" rx="1.20" ry="1.07" fill="#111111"/>
<ellipse cx="204.8" cy="106.7" rx="1.20" ry="1.07" fill="#111111"/>
<ellipse cx="204.8" cy="115.3" rx="1.20" ry="1.07" fill="#111111"/>
<ellipse cx="204.8" cy="121.6" rx="0.80" ry="0.72" fill="#111111"/>
<ellipse cx="204.8" cy="130.3" rx="0.80" ry="0.72" fill="#111111"/>
<ellipse cx="204.8" cy="136.5" rx="1.30" ry="0.72" fill="#111111" transform="rotate(90 204.8 136.5)"/>
<ellipse cx="204.8" cy="141.4" rx="1.70" ry="0.72" fill="#111111" transform="rotate(90 204.8 141.4)"/>
<ellipse cx="204.8" cy="147.2" rx="2.50" ry="0.92" fill="#111111" transform="rotate(90 204.8 147.2)"/>
<ellipse cx="204.8" cy="156.2" rx="2.10" ry="0.82" fill="#111111" transform="rotate(90 204.8 156.2)"/>
<ellipse cx="204.8" cy="162.4" rx="2.10" ry="0.82" fill="#111111" transform="rotate(90 204.8 162.4)"/>
<ellipse cx="204.8" cy="170.9" rx="2.10" ry="1.02" fill="#111111" transform="rotate(90 204.8 170.9)"/>
<ellipse cx="204.8" cy="177.1" rx="2.10" ry="1.02" fill="#111111" transform="rotate(90 204.8 177.1)"/>
<ellipse cx="204.8" cy="185.9" rx="1.90" ry="0.92" fill="#111111" transform="rotate(80 204.8 185.9)"/>
<ellipse cx="204.8" cy="192.1" rx="0.80" ry="0.72" fill="#111111"/>
<ellipse cx="204.8" cy="215.6" rx="1.05" ry="0.85" fill="#9a9833" stroke="#201e0c" stroke-width="0.9"/>
<ellipse cx="204.8" cy="221.8" rx="1.90" ry="0.82" fill="#111111" transform="rotate(-60 204.8 221.8)"/>
<ellipse cx="204.8" cy="230.6" rx="1.15" ry="0.65" fill="#9a9833" stroke="#201e0c" stroke-width="0.9" transform="rotate(-30 204.8 230.6)"/>
<ellipse cx="204.8" cy="236.8" rx="1.90" ry="0.82" fill="#111111" transform="rotate(-30 204.8 236.8)"/>
<ellipse cx="204.8" cy="245.6" rx="0.80" ry="0.72" fill="#111111"/>
<ellipse cx="204.8" cy="251.8" rx="0.80" ry="0.72" fill="#111111"/>
<ellipse cx="204.8" cy="260.3" rx="2.10" ry="0.62" fill="#111111" transform="rotate(-30 204.8 260.3)"/>
<ellipse cx="204.8" cy="266.6" rx="0.80" ry="0.72" fill="#111111"/>
<ellipse cx="204.8" cy="275.3" rx="0.80" ry="0.72" fill="#111111"/>
<ellipse cx="204.8" cy="281.5" rx="1.30" ry="0.72" fill="#111111" transform="rotate(45 204.8 281.5)"/>
<ellipse cx="204.8" cy="290.3" rx="2.10" ry="0.82" fill="#111111" transform="rotate(25 204.8 290.3)"/>
<ellipse cx="204.8" cy="296.4" rx="2.60" ry="0.92" fill="#111111" transform="rotate(15 204.8 296.4)"/>
<ellipse cx="204.8" cy="304.9" rx="2.62" ry="0.62" fill="#9a9833" stroke="#201e0c" stroke-width="0.95" transform="rotate(25 204.8 304.9)"/>
<ellipse cx="213.4" cy="85.5" rx="1.25" ry="1.05" fill="#9a9833" stroke="#201e0c" stroke-width="0.9"/>
<ellipse cx="213.4" cy="91.7" rx="1.25" ry="0.75" fill="#9a9833" stroke="#201e0c" stroke-width="0.9" transform="rotate(90 213.4 91.7)"/>
<ellipse cx="213.4" cy="100.5" rx="1.25" ry="0.95" fill="#9a9833" stroke="#201e0c" stroke-width="0.9"/>
<ellipse cx="213.4" cy="106.7" rx="1.25" ry="0.95" fill="#9a9833" stroke="#201e0c" stroke-width="0.9" transform="rotate(30 213.4 106.7)"/>
<ellipse cx="213.4" cy="115.3" rx="1.20" ry="1.07" fill="#111111"/>
<ellipse cx="213.4" cy="121.6" rx="1.20" ry="1.07" fill="#111111"/>
<ellipse cx="213.4" cy="130.3" rx="1.40" ry="0.72" fill="#111111" transform="rotate(40 213.4 130.3)"/>
<ellipse cx="213.4" cy="136.5" rx="1.90" ry="0.82" fill="#111111" transform="rotate(35 213.4 136.5)"/>
<ellipse cx="213.4" cy="141.4" rx="1.40" ry="0.72" fill="#111111" transform="rotate(40 213.4 141.4)"/>
<ellipse cx="213.4" cy="147.2" rx="1.90" ry="0.82" fill="#111111" transform="rotate(40 213.4 147.2)"/>
<ellipse cx="213.4" cy="156.2" rx="2.10" ry="1.02" fill="#111111" transform="rotate(40 213.4 156.2)"/>
<ellipse cx="213.4" cy="162.4" rx="2.10" ry="1.12" fill="#111111" transform="rotate(40 213.4 162.4)"/>
<ellipse cx="213.4" cy="170.9" rx="1.90" ry="0.92" fill="#111111" transform="rotate(30 213.4 170.9)"/>
<ellipse cx="213.4" cy="177.1" rx="2.10" ry="0.92" fill="#111111" transform="rotate(30 213.4 177.1)"/>
<ellipse cx="213.4" cy="185.9" rx="1.90" ry="0.82" fill="#111111" transform="rotate(20 213.4 185.9)"/>
<ellipse cx="213.4" cy="192.1" rx="1.70" ry="0.72" fill="#111111"/>
<ellipse cx="213.4" cy="200.9" rx="1.40" ry="0.82" fill="#111111" transform="rotate(90 213.4 200.9)"/>
<ellipse cx="213.4" cy="206.7" rx="1.05" ry="0.75" fill="#9a9833" stroke="#201e0c" stroke-width="0.9" transform="rotate(90 213.4 206.7)"/>
<ellipse cx="213.4" cy="215.6" rx="1.90" ry="0.92" fill="#111111" transform="rotate(90 213.4 215.6)"/>
<ellipse cx="213.4" cy="221.8" rx="1.90" ry="0.82" fill="#111111" transform="rotate(90 213.4 221.8)"/>
<ellipse cx="213.4" cy="230.6" rx="1.70" ry="0.72" fill="#111111" transform="rotate(-50 213.4 230.6)"/>
<ellipse cx="213.4" cy="236.8" rx="1.60" ry="0.72" fill="#111111" transform="rotate(-30 213.4 236.8)"/>
<ellipse cx="213.4" cy="245.6" rx="1.50" ry="0.82" fill="#111111"/>
<ellipse cx="213.4" cy="251.8" rx="1.40" ry="0.72" fill="#111111"/>
<ellipse cx="213.4" cy="260.3" rx="0.80" ry="0.72" fill="#111111"/>
<ellipse cx="213.4" cy="266.6" rx="1.20" ry="1.07" fill="#111111"/>
<ellipse cx="213.4" cy="275.3" rx="1.20" ry="1.07" fill="#111111"/>
<ellipse cx="213.4" cy="281.5" rx="1.30" ry="0.72" fill="#111111" transform="rotate(45 213.4 281.5)"/>
<ellipse cx="213.4" cy="290.3" rx="2.10" ry="0.92" fill="#111111" transform="rotate(30 213.4 290.3)"/>
<ellipse cx="213.4" cy="296.4" rx="2.30" ry="0.92" fill="#111111" transform="rotate(30 213.4 296.4)"/>
<ellipse cx="213.4" cy="304.9" rx="1.50" ry="0.62" fill="#111111"/>
<ellipse cx="218.7" cy="70.5" rx="1.50" ry="0.72" fill="#111111" transform="rotate(30 218.7 70.5)"/>
<ellipse cx="218.7" cy="76.9" rx="1.30" ry="1.02" fill="#111111"/>
<ellipse cx="218.7" cy="85.5" rx="0.80" ry="0.72" fill="#111111"/>
<ellipse cx="218.7" cy="91.7" rx="1.30" ry="0.72" fill="#111111" transform="rotate(30 218.7 91.7)"/>
<ellipse cx="218.7" cy="100.5" rx="1.30" ry="0.72" fill="#111111" transform="rotate(30 218.7 100.5)"/>
<ellipse cx="218.7" cy="106.7" rx="1.30" ry="0.52" fill="#111111" transform="rotate(30 218.7 106.7)"/>
<ellipse cx="218.7" cy="115.3" rx="1.20" ry="1.07" fill="#111111"/>
<ellipse cx="218.7" cy="121.6" rx="1.20" ry="1.07" fill="#111111"/>
<ellipse cx="218.7" cy="130.3" rx="1.30" ry="0.72" fill="#111111" transform="rotate(-40 218.7 130.3)"/>
<ellipse cx="218.7" cy="136.5" rx="1.30" ry="0.72" fill="#111111" transform="rotate(40 218.7 136.5)"/>
<ellipse cx="218.7" cy="141.4" rx="1.30" ry="0.72" fill="#111111" transform="rotate(-40 218.7 141.4)"/>
<ellipse cx="218.7" cy="147.2" rx="1.40" ry="0.72" fill="#111111" transform="rotate(40 218.7 147.2)"/>
<ellipse cx="218.7" cy="156.2" rx="1.90" ry="0.82" fill="#111111" transform="rotate(50 218.7 156.2)"/>
<ellipse cx="218.7" cy="162.4" rx="2.30" ry="0.92" fill="#111111" transform="rotate(50 218.7 162.4)"/>
<ellipse cx="218.7" cy="170.9" rx="2.10" ry="0.92" fill="#111111" transform="rotate(45 218.7 170.9)"/>
<ellipse cx="218.7" cy="177.1" rx="2.10" ry="0.92" fill="#111111" transform="rotate(45 218.7 177.1)"/>
<ellipse cx="218.7" cy="185.9" rx="1.90" ry="0.82" fill="#111111" transform="rotate(30 218.7 185.9)"/>
<ellipse cx="218.7" cy="192.1" rx="2.10" ry="0.72" fill="#111111"/>
<ellipse cx="218.7" cy="200.9" rx="2.10" ry="0.82" fill="#111111"/>
<ellipse cx="218.7" cy="206.7" rx="2.50" ry="0.92" fill="#111111" transform="rotate(-10 218.7 206.7)"/>
<ellipse cx="218.7" cy="215.6" rx="2.05" ry="0.65" fill="#9a9833" stroke="#201e0c" stroke-width="0.9" transform="rotate(-15 218.7 215.6)"/>
<ellipse cx="218.7" cy="221.8" rx="2.30" ry="0.82" fill="#111111" transform="rotate(-35 218.7 221.8)"/>
<ellipse cx="218.7" cy="230.6" rx="2.10" ry="0.82" fill="#111111" transform="rotate(-35 218.7 230.6)"/>
<ellipse cx="218.7" cy="236.8" rx="1.90" ry="0.72" fill="#111111" transform="rotate(-20 218.7 236.8)"/>
<ellipse cx="218.7" cy="245.6" rx="1.90" ry="0.82" fill="#111111"/>
<ellipse cx="218.7" cy="251.8" rx="1.90" ry="0.82" fill="#111111"/>
<ellipse cx="218.7" cy="260.3" rx="1.70" ry="0.72" fill="#111111" transform="rotate(20 218.7 260.3)"/>
<ellipse cx="218.7" cy="266.6" rx="1.30" ry="0.72" fill="#111111" transform="rotate(45 218.7 266.6)"/>
<ellipse cx="218.7" cy="275.3" rx="1.20" ry="1.07" fill="#111111"/>
<ellipse cx="218.7" cy="281.5" rx="1.30" ry="0.72" fill="#111111" transform="rotate(45 218.7 281.5)"/>
<ellipse cx="218.7" cy="290.3" rx="2.10" ry="0.82" fill="#111111" transform="rotate(10 218.7 290.3)"/>
<ellipse cx="218.7" cy="296.4" rx="2.30" ry="0.82" fill="#111111" transform="rotate(10 218.7 296.4)"/>
<ellipse cx="218.7" cy="304.9" rx="2.10" ry="0.82" fill="#111111" transform="rotate(30 218.7 304.9)"/>
<ellipse cx="230.5" cy="70.5" rx="0.80" ry="0.72" fill="#111111"/>
<ellipse cx="230.5" cy="76.9" rx="0.80" ry="0.72" fill="#111111"/>
<ellipse cx="230.5" cy="85.5" rx="1.00" ry="0.92" fill="#111111"/>
<ellipse cx="230.5" cy="100.5" rx="0.80" ry="0.72" fill="#111111"/>
<ellipse cx="230.5" cy="106.7" rx="0.80" ry="0.72" fill="#111111"/>
<ellipse cx="230.5" cy="115.3" rx="0.80" ry="0.72" fill="#111111"/>
<ellipse cx="230.5" cy="121.6" rx="0.80" ry="0.72" fill="#111111"/>
<ellipse cx="230.5" cy="130.3" rx="1.60" ry="0.82" fill="#111111" transform="rotate(-30 230.5 130.3)"/>
<ellipse cx="230.5" cy="136.5" rx="1.70" ry="0.82" fill="#111111" transform="rotate(-30 230.5 136.5)"/>
<ellipse cx="230.5" cy="141.4" rx="1.90" ry="0.72" fill="#111111"/>
<ellipse cx="230.5" cy="147.2" rx="2.30" ry="0.72" fill="#111111"/>
<ellipse cx="230.5" cy="156.2" rx="2.10" ry="0.62" fill="#111111"/>
<ellipse cx="230.5" cy="162.4" rx="2.30" ry="0.72" fill="#111111"/>
<ellipse cx="230.5" cy="170.9" rx="1.10" ry="0.52" fill="#111111"/>
<ellipse cx="230.5" cy="177.1" rx="0.80" ry="0.72" fill="#111111"/>
<ellipse cx="230.5" cy="192.1" rx="1.20" ry="1.07" fill="#111111"/>
<ellipse cx="230.5" cy="200.9" rx="1.90" ry="0.92" fill="#111111" transform="rotate(-40 230.5 200.9)"/>
<ellipse cx="230.5" cy="206.7" rx="2.10" ry="0.92" fill="#111111" transform="rotate(-30 230.5 206.7)"/>
<ellipse cx="230.5" cy="215.6" rx="2.10" ry="0.82" fill="#111111" transform="rotate(-40 230.5 215.6)"/>
<ellipse cx="230.5" cy="221.8" rx="2.10" ry="0.92" fill="#111111" transform="rotate(-30 230.5 221.8)"/>
<ellipse cx="230.5" cy="230.6" rx="2.10" ry="0.82" fill="#111111" transform="rotate(-35 230.5 230.6)"/>
<ellipse cx="230.5" cy="236.8" rx="1.50" ry="0.72" fill="#111111" transform="rotate(-35 230.5 236.8)"/>
<ellipse cx="230.5" cy="245.6" rx="1.90" ry="0.82" fill="#111111" transform="rotate(-15 230.5 245.6)"/>
<ellipse cx="230.5" cy="251.8" rx="1.90" ry="0.82" fill="#111111" transform="rotate(-15 230.5 251.8)"/>
<ellipse cx="230.5" cy="260.3" rx="1.50" ry="0.72" fill="#111111" transform="rotate(-40 230.5 260.3)"/>
<ellipse cx="230.5" cy="266.6" rx="0.80" ry="0.72" fill="#111111"/>
<ellipse cx="230.5" cy="275.3" rx="1.30" ry="0.72" fill="#111111" transform="rotate(45 230.5 275.3)"/>
<ellipse cx="230.5" cy="281.5" rx="1.20" ry="1.07" fill="#111111"/>
<ellipse cx="230.5" cy="290.3" rx="1.90" ry="0.82" fill="#111111"/>
<ellipse cx="230.5" cy="296.4" rx="2.10" ry="0.82" fill="#111111"/>
<ellipse cx="230.5" cy="304.9" rx="2.60" ry="0.72" fill="#111111" transform="rotate(20 230.5 304.9)"/>
<ellipse cx="236.2" cy="100.5" rx="2.12" ry="0.43" fill="#9a9833" stroke="#201e0c" stroke-width="0.95"/>
<ellipse cx="236.2" cy="106.7" rx="1.65" ry="0.95" fill="#9a9833" stroke="#201e0c" stroke-width="0.9" transform="rotate(10 236.2 106.7)"/>
<ellipse cx="236.2" cy="115.3" rx="1.65" ry="0.95" fill="#9a9833" stroke="#201e0c" stroke-width="0.9" transform="rotate(40 236.2 115.3)"/>
<ellipse cx="236.2" cy="121.6" rx="1.65" ry="0.65" fill="#9a9833" stroke="#201e0c" stroke-width="0.9" transform="rotate(35 236.2 121.6)"/>
<ellipse cx="236.2" cy="130.3" rx="1.90" ry="0.92" fill="#111111" transform="rotate(40 236.2 130.3)"/>
<ellipse cx="236.2" cy="136.5" rx="1.90" ry="0.92" fill="#111111" transform="rotate(35 236.2 136.5)"/>
<ellipse cx="236.2" cy="141.4" rx="1.25" ry="0.55" fill="#9a9833" stroke="#201e0c" stroke-width="0.9"/>
<ellipse cx="236.2" cy="147.2" rx="1.85" ry="1.05" fill="#9a9833" stroke="#201e0c" stroke-width="0.9" transform="rotate(50 236.2 147.2)"/>
<ellipse cx="236.2" cy="156.2" rx="2.62" ry="1.23" fill="#ee8632" stroke="#24100c" stroke-width="0.95" transform="rotate(50 236.2 156.2)"/>
<ellipse cx="236.2" cy="162.4" rx="2.83" ry="1.23" fill="#ee8632" stroke="#24100c" stroke-width="0.95" transform="rotate(55 236.2 162.4)"/>
<ellipse cx="236.2" cy="170.9" rx="0.90" ry="0.52" fill="#111111"/>
<ellipse cx="236.2" cy="177.1" rx="1.60" ry="0.82" fill="#111111"/>
<ellipse cx="236.2" cy="192.1" rx="0.80" ry="0.72" fill="#111111"/>
<ellipse cx="236.2" cy="200.9" rx="1.50" ry="0.72" fill="#111111" transform="rotate(90 236.2 200.9)"/>
<ellipse cx="236.2" cy="206.7" rx="1.70" ry="0.82" fill="#111111" transform="rotate(90 236.2 206.7)"/>
<ellipse cx="236.2" cy="215.6" rx="2.10" ry="0.82" fill="#111111" transform="rotate(90 236.2 215.6)"/>
<ellipse cx="236.2" cy="221.8" rx="2.10" ry="0.82" fill="#111111" transform="rotate(90 236.2 221.8)"/>
<ellipse cx="236.2" cy="230.6" rx="1.90" ry="0.82" fill="#111111" transform="rotate(-35 236.2 230.6)"/>
<ellipse cx="236.2" cy="236.8" rx="1.40" ry="0.72" fill="#111111"/>
<ellipse cx="236.2" cy="245.6" rx="1.90" ry="0.72" fill="#111111" transform="rotate(-10 236.2 245.6)"/>
<ellipse cx="236.2" cy="251.8" rx="1.70" ry="0.72" fill="#111111"/>
<ellipse cx="236.2" cy="260.3" rx="1.40" ry="0.72" fill="#111111" transform="rotate(-45 236.2 260.3)"/>
<ellipse cx="236.2" cy="266.6" rx="1.40" ry="0.72" fill="#111111" transform="rotate(-45 236.2 266.6)"/>
<ellipse cx="236.2" cy="275.3" rx="1.20" ry="1.07" fill="#111111"/>
<ellipse cx="236.2" cy="281.5" rx="1.20" ry="1.07" fill="#111111"/>
<ellipse cx="236.2" cy="290.3" rx="1.40" ry="0.72" fill="#111111"/>
<ellipse cx="236.2" cy="296.4" rx="1.40" ry="0.72" fill="#111111"/>
<ellipse cx="236.2" cy="304.9" rx="2.83" ry="0.82" fill="#9a9833" stroke="#201e0c" stroke-width="0.95" transform="rotate(35 236.2 304.9)"/>
<ellipse cx="256.8" cy="100.5" rx="1.70" ry="0.82" fill="#111111" transform="rotate(90 256.8 100.5)"/>
<ellipse cx="256.8" cy="106.7" rx="1.40" ry="0.82" fill="#111111" transform="rotate(70 256.8 106.7)"/>
<ellipse cx="256.8" cy="115.3" rx="1.90" ry="0.92" fill="#111111" transform="rotate(90 256.8 115.3)"/>
<ellipse cx="256.8" cy="121.6" rx="1.90" ry="0.82" fill="#111111" transform="rotate(-75 256.8 121.6)"/>
<ellipse cx="256.8" cy="130.3" rx="1.40" ry="1.22" fill="#111111"/>
<ellipse cx="256.8" cy="136.5" rx="1.50" ry="0.72" fill="#111111" transform="rotate(-20 256.8 136.5)"/>
<ellipse cx="256.8" cy="141.4" rx="1.30" ry="0.72" fill="#111111" transform="rotate(-45 256.8 141.4)"/>
<ellipse cx="256.8" cy="147.2" rx="1.15" ry="0.95" fill="#9a9833" stroke="#201e0c" stroke-width="0.9"/>
<ellipse cx="256.8" cy="156.2" rx="1.15" ry="0.85" fill="#9a9833" stroke="#201e0c" stroke-width="0.9" transform="rotate(45 256.8 156.2)"/>
<ellipse cx="256.8" cy="162.4" rx="1.35" ry="0.65" fill="#9a9833" stroke="#201e0c" stroke-width="0.9" transform="rotate(60 256.8 162.4)"/>
<ellipse cx="256.8" cy="170.9" rx="1.50" ry="1.22" fill="#111111" transform="rotate(60 256.8 170.9)"/>
<ellipse cx="256.8" cy="177.1" rx="1.60" ry="1.32" fill="#111111"/>
<ellipse cx="256.8" cy="185.9" rx="1.60" ry="0.82" fill="#111111" transform="rotate(90 256.8 185.9)"/>
<ellipse cx="256.8" cy="192.1" rx="1.40" ry="0.72" fill="#111111" transform="rotate(90 256.8 192.1)"/>
<ellipse cx="256.8" cy="200.9" rx="0.80" ry="0.72" fill="#111111"/>
<ellipse cx="256.8" cy="206.7" rx="0.80" ry="0.72" fill="#111111"/>
<ellipse cx="256.8" cy="215.6" rx="1.30" ry="0.72" fill="#111111" transform="rotate(90 256.8 215.6)"/>
<ellipse cx="256.8" cy="236.8" rx="2.10" ry="0.92" fill="#111111" transform="rotate(-30 256.8 236.8)"/>
<ellipse cx="256.8" cy="245.6" rx="2.30" ry="0.82" fill="#111111" transform="rotate(-30 256.8 245.6)"/>
<ellipse cx="256.8" cy="251.8" rx="2.10" ry="0.92" fill="#111111" transform="rotate(-30 256.8 251.8)"/>
<ellipse cx="256.8" cy="260.3" rx="1.90" ry="0.82" fill="#111111" transform="rotate(-60 256.8 260.3)"/>
<ellipse cx="256.8" cy="266.6" rx="1.90" ry="0.92" fill="#111111" transform="rotate(-75 256.8 266.6)"/>
<ellipse cx="256.8" cy="275.3" rx="1.15" ry="0.95" fill="#9a9833" stroke="#201e0c" stroke-width="0.9"/>
<ellipse cx="256.8" cy="281.5" rx="1.25" ry="0.95" fill="#e2cd35" stroke="#201e0c" stroke-width="0.9"/>
<ellipse cx="264.7" cy="70.5" rx="3.42" ry="1.43" fill="#ee8632" stroke="#24100c" stroke-width="0.95" transform="rotate(60 264.7 70.5)"/>
<ellipse cx="264.7" cy="76.9" rx="3.42" ry="1.52" fill="#ee8632" stroke="#24100c" stroke-width="0.95" transform="rotate(55 264.7 76.9)"/>
<ellipse cx="264.7" cy="85.5" rx="2.42" ry="1.12" fill="#f3ac33" stroke="#201e0c" stroke-width="0.95" transform="rotate(50 264.7 85.5)"/>
<ellipse cx="264.7" cy="91.7" rx="2.10" ry="0.62" fill="#111111" transform="rotate(60 264.7 91.7)"/>
<ellipse cx="264.7" cy="100.5" rx="0.80" ry="0.72" fill="#111111"/>
<ellipse cx="264.7" cy="106.7" rx="1.00" ry="0.52" fill="#111111"/>
<ellipse cx="264.7" cy="115.3" rx="1.70" ry="0.82" fill="#111111" transform="rotate(-20 264.7 115.3)"/>
<ellipse cx="264.7" cy="121.6" rx="1.25" ry="0.55" fill="#9a9833" stroke="#201e0c" stroke-width="0.9"/>
<ellipse cx="264.7" cy="130.3" rx="1.35" ry="1.05" fill="#e2cd35" stroke="#201e0c" stroke-width="0.9"/>
<ellipse cx="264.7" cy="136.5" rx="1.50" ry="1.22" fill="#111111"/>
<ellipse cx="264.7" cy="141.4" rx="1.40" ry="1.12" fill="#111111"/>
<ellipse cx="264.7" cy="147.2" rx="0.80" ry="0.72" fill="#111111"/>
<ellipse cx="264.7" cy="156.2" rx="0.80" ry="0.72" fill="#111111"/>
<ellipse cx="264.7" cy="162.4" rx="1.30" ry="0.62" fill="#111111" transform="rotate(-45 264.7 162.4)"/>
<ellipse cx="264.7" cy="170.9" rx="1.70" ry="0.62" fill="#111111" transform="rotate(-35 264.7 170.9)"/>
<ellipse cx="264.7" cy="177.1" rx="1.70" ry="0.72" fill="#111111" transform="rotate(-30 264.7 177.1)"/>
<ellipse cx="264.7" cy="192.1" rx="1.00" ry="0.92" fill="#111111"/>
<ellipse cx="264.7" cy="200.9" rx="1.60" ry="0.72" fill="#111111" transform="rotate(45 264.7 200.9)"/>
<ellipse cx="264.7" cy="206.7" rx="1.40" ry="0.62" fill="#111111" transform="rotate(70 264.7 206.7)"/>
<ellipse cx="264.7" cy="215.6" rx="2.30" ry="0.92" fill="#111111" transform="rotate(90 264.7 215.6)"/>
<ellipse cx="264.7" cy="221.8" rx="1.45" ry="0.85" fill="#e2cd35" stroke="#201e0c" stroke-width="0.9" transform="rotate(90 264.7 221.8)"/>
<ellipse cx="264.7" cy="245.6" rx="1.50" ry="0.62" fill="#111111" transform="rotate(-60 264.7 245.6)"/>
<ellipse cx="264.7" cy="251.8" rx="1.50" ry="0.62" fill="#111111" transform="rotate(-50 264.7 251.8)"/>
<ellipse cx="264.7" cy="260.3" rx="2.10" ry="0.82" fill="#111111" transform="rotate(-70 264.7 260.3)"/>
<ellipse cx="264.7" cy="275.3" rx="1.70" ry="0.82" fill="#111111" transform="rotate(-80 264.7 275.3)"/>
<ellipse cx="264.7" cy="281.5" rx="1.70" ry="0.92" fill="#111111" transform="rotate(90 264.7 281.5)"/>
<ellipse cx="264.7" cy="290.3" rx="1.30" ry="1.02" fill="#111111" transform="rotate(50 264.7 290.3)"/>
<ellipse cx="264.7" cy="296.4" rx="1.45" ry="1.15" fill="#e2cd35" stroke="#201e0c" stroke-width="0.9"/>
<ellipse cx="272.6" cy="100.5" rx="2.23" ry="1.52" fill="#f3ac33" stroke="#201e0c" stroke-width="0.95" transform="rotate(-60 272.6 100.5)"/>
<ellipse cx="272.6" cy="106.7" rx="2.12" ry="1.92" fill="#ee8632" stroke="#24100c" stroke-width="0.95"/>
<ellipse cx="272.6" cy="115.3" rx="2.62" ry="2.23" fill="#ea5a2c" stroke="#24100c" stroke-width="0.95" transform="rotate(30 272.6 115.3)"/>
<ellipse cx="272.6" cy="121.6" rx="2.42" ry="2.02" fill="#ee8632" stroke="#24100c" stroke-width="0.95" transform="rotate(30 272.6 121.6)"/>
<ellipse cx="272.6" cy="130.3" rx="2.42" ry="1.43" fill="#f3ac33" stroke="#201e0c" stroke-width="0.95" transform="rotate(60 272.6 130.3)"/>
<ellipse cx="272.6" cy="136.5" rx="2.05" ry="1.35" fill="#f3ac33" stroke="#201e0c" stroke-width="0.9" transform="rotate(60 272.6 136.5)"/>
<ellipse cx="272.6" cy="141.4" rx="1.65" ry="1.15" fill="#e2cd35" stroke="#201e0c" stroke-width="0.9" transform="rotate(80 272.6 141.4)"/>
<ellipse cx="272.6" cy="147.2" rx="1.45" ry="0.75" fill="#9a9833" stroke="#201e0c" stroke-width="0.9" transform="rotate(90 272.6 147.2)"/>
<ellipse cx="272.6" cy="156.2" rx="1.90" ry="0.82" fill="#111111" transform="rotate(90 272.6 156.2)"/>
<ellipse cx="272.6" cy="162.4" rx="1.90" ry="0.82" fill="#111111" transform="rotate(-75 272.6 162.4)"/>
<ellipse cx="272.6" cy="170.9" rx="2.30" ry="0.82" fill="#111111" transform="rotate(-65 272.6 170.9)"/>
<ellipse cx="272.6" cy="177.1" rx="3.10" ry="0.82" fill="#111111" transform="rotate(-60 272.6 177.1)"/>
<ellipse cx="272.6" cy="185.9" rx="2.62" ry="0.93" fill="#9a5a28" stroke="#24100c" stroke-width="0.95" transform="rotate(-55 272.6 185.9)"/>
<ellipse cx="272.6" cy="192.1" rx="3.30" ry="0.72" fill="#111111" transform="rotate(-30 272.6 192.1)"/>
<ellipse cx="272.6" cy="200.9" rx="2.42" ry="0.82" fill="#9a9833" stroke="#201e0c" stroke-width="0.95"/>
<ellipse cx="272.6" cy="206.7" rx="2.23" ry="1.02" fill="#9a9833" stroke="#201e0c" stroke-width="0.95" transform="rotate(10 272.6 206.7)"/>
<ellipse cx="272.6" cy="236.8" rx="2.42" ry="2.02" fill="#ee8632" stroke="#24100c" stroke-width="0.95"/>
<ellipse cx="272.6" cy="245.6" rx="1.85" ry="0.95" fill="#9a5a28" stroke="#24100c" stroke-width="0.9" transform="rotate(-50 272.6 245.6)"/>
<ellipse cx="272.6" cy="251.8" rx="1.90" ry="0.82" fill="#111111" transform="rotate(-10 272.6 251.8)"/>
<ellipse cx="272.6" cy="260.3" rx="1.90" ry="0.82" fill="#111111" transform="rotate(-50 272.6 260.3)"/>
<ellipse cx="272.6" cy="266.6" rx="1.90" ry="0.82" fill="#111111" transform="rotate(-65 272.6 266.6)"/>
<ellipse cx="272.6" cy="275.3" rx="2.10" ry="0.82" fill="#111111" transform="rotate(90 272.6 275.3)"/>
<ellipse cx="272.6" cy="281.5" rx="2.10" ry="0.82" fill="#111111" transform="rotate(90 272.6 281.5)"/>
<ellipse cx="272.6" cy="290.3" rx="1.50" ry="1.32" fill="#111111"/>
<ellipse cx="285.0" cy="100.5" rx="1.40" ry="0.52" fill="#111111" transform="rotate(90 285.0 100.5)"/>
<ellipse cx="285.0" cy="106.7" rx="1.65" ry="0.75" fill="#9a9833" stroke="#201e0c" stroke-width="0.9" transform="rotate(55 285.0 106.7)"/>
<ellipse cx="285.0" cy="115.3" rx="1.35" ry="1.15" fill="#9a9833" stroke="#201e0c" stroke-width="0.9"/>
<ellipse cx="285.0" cy="121.6" rx="1.15" ry="0.95" fill="#9a9833" stroke="#201e0c" stroke-width="0.9"/>
<ellipse cx="285.0" cy="130.3" rx="1.75" ry="1.45" fill="#e2cd35" stroke="#201e0c" stroke-width="0.9"/>
<ellipse cx="285.0" cy="136.5" rx="1.65" ry="1.25" fill="#e2cd35" stroke="#201e0c" stroke-width="0.9"/>
<ellipse cx="285.0" cy="141.4" rx="1.25" ry="1.05" fill="#9a9833" stroke="#201e0c" stroke-width="0.9"/>
<ellipse cx="285.0" cy="147.2" rx="1.50" ry="1.32" fill="#111111"/>
<ellipse cx="285.0" cy="156.2" rx="1.70" ry="1.02" fill="#111111" transform="rotate(40 285.0 156.2)"/>
<ellipse cx="285.0" cy="162.4" rx="1.70" ry="0.82" fill="#111111" transform="rotate(30 285.0 162.4)"/>
<ellipse cx="285.0" cy="170.9" rx="1.40" ry="0.52" fill="#111111" transform="rotate(30 285.0 170.9)"/>
<ellipse cx="285.0" cy="177.1" rx="0.80" ry="0.72" fill="#111111"/>
<ellipse cx="285.0" cy="185.9" rx="1.40" ry="0.62" fill="#111111" transform="rotate(90 285.0 185.9)"/>
<ellipse cx="285.0" cy="192.1" rx="1.30" ry="0.62" fill="#111111" transform="rotate(90 285.0 192.1)"/>
<ellipse cx="285.0" cy="200.9" rx="1.40" ry="0.72" fill="#111111" transform="rotate(-60 285.0 200.9)"/>
<ellipse cx="285.0" cy="206.7" rx="1.20" ry="1.07" fill="#111111"/>
<ellipse cx="285.0" cy="215.6" rx="1.40" ry="1.12" fill="#111111" transform="rotate(60 285.0 215.6)"/>
<ellipse cx="285.0" cy="245.6" rx="1.40" ry="0.72" fill="#111111" transform="rotate(45 285.0 245.6)"/>
<ellipse cx="285.0" cy="251.8" rx="1.20" ry="1.07" fill="#111111"/>
<ellipse cx="285.0" cy="260.3" rx="1.20" ry="1.07" fill="#111111"/>
<ellipse cx="285.0" cy="266.6" rx="1.30" ry="0.72" fill="#111111" transform="rotate(90 285.0 266.6)"/>
<ellipse cx="285.0" cy="275.3" rx="1.70" ry="0.72" fill="#111111" transform="rotate(90 285.0 275.3)"/>
<ellipse cx="285.0" cy="281.5" rx="1.90" ry="0.82" fill="#111111" transform="rotate(80 285.0 281.5)"/>
<ellipse cx="285.0" cy="290.3" rx="2.30" ry="0.82" fill="#111111" transform="rotate(70 285.0 290.3)"/>
<ellipse cx="285.0" cy="296.4" rx="2.10" ry="0.82" fill="#111111" transform="rotate(45 285.0 296.4)"/>
<ellipse cx="285.0" cy="304.9" rx="2.90" ry="0.72" fill="#111111" transform="rotate(40 285.0 304.9)"/>
<ellipse cx="296.4" cy="70.5" rx="0.80" ry="0.72" fill="#111111"/>
<ellipse cx="296.4" cy="76.9" rx="1.00" ry="0.92" fill="#111111"/>
<ellipse cx="296.4" cy="85.5" rx="1.20" ry="1.07" fill="#111111"/>
<ellipse cx="296.4" cy="91.7" rx="1.20" ry="1.07" fill="#111111"/>
<ellipse cx="296.4" cy="100.5" rx="1.20" ry="1.07" fill="#111111"/>
<ellipse cx="296.4" cy="106.7" rx="1.20" ry="1.07" fill="#111111"/>
<ellipse cx="296.4" cy="115.3" rx="1.20" ry="1.07" fill="#111111"/>
<ellipse cx="296.4" cy="121.6" rx="1.20" ry="1.07" fill="#111111"/>
<ellipse cx="296.4" cy="130.3" rx="1.20" ry="1.07" fill="#111111"/>
<ellipse cx="296.4" cy="136.5" rx="1.00" ry="0.92" fill="#111111"/>
<ellipse cx="296.4" cy="141.4" rx="0.80" ry="0.72" fill="#111111"/>
<ellipse cx="296.4" cy="147.2" rx="0.70" ry="0.52" fill="#111111"/>
<ellipse cx="296.4" cy="156.2" rx="1.70" ry="0.72" fill="#111111"/>
<ellipse cx="296.4" cy="162.4" rx="2.10" ry="0.82" fill="#111111" transform="rotate(-10 296.4 162.4)"/>
<ellipse cx="296.4" cy="170.9" rx="2.10" ry="0.82" fill="#111111" transform="rotate(-10 296.4 170.9)"/>
<ellipse cx="296.4" cy="177.1" rx="1.90" ry="0.72" fill="#111111"/>
<ellipse cx="296.4" cy="185.9" rx="1.40" ry="0.62" fill="#111111"/>
<ellipse cx="296.4" cy="192.1" rx="1.30" ry="1.02" fill="#111111"/>
<ellipse cx="296.4" cy="200.9" rx="1.50" ry="1.02" fill="#111111" transform="rotate(90 296.4 200.9)"/>
<ellipse cx="296.4" cy="206.7" rx="1.60" ry="1.02" fill="#111111" transform="rotate(90 296.4 206.7)"/>
<ellipse cx="296.4" cy="215.6" rx="1.70" ry="1.02" fill="#111111" transform="rotate(90 296.4 215.6)"/>
<ellipse cx="296.4" cy="221.8" rx="1.80" ry="1.12" fill="#111111" transform="rotate(70 296.4 221.8)"/>
<ellipse cx="296.4" cy="230.6" rx="1.50" ry="0.72" fill="#111111" transform="rotate(60 296.4 230.6)"/>
<ellipse cx="296.4" cy="236.8" rx="1.40" ry="0.72" fill="#111111" transform="rotate(20 296.4 236.8)"/>
<ellipse cx="296.4" cy="245.6" rx="1.40" ry="1.12" fill="#111111"/>
<ellipse cx="296.4" cy="251.8" rx="1.20" ry="0.52" fill="#111111"/>
<ellipse cx="296.4" cy="260.3" rx="1.20" ry="1.07" fill="#111111"/>
<ellipse cx="296.4" cy="266.6" rx="1.40" ry="1.12" fill="#111111" transform="rotate(90 296.4 266.6)"/>
<ellipse cx="296.4" cy="275.3" rx="1.70" ry="0.82" fill="#111111" transform="rotate(65 296.4 275.3)"/>
<ellipse cx="296.4" cy="281.5" rx="1.90" ry="0.82" fill="#111111" transform="rotate(65 296.4 281.5)"/>
<ellipse cx="296.4" cy="290.3" rx="2.10" ry="0.82" fill="#111111" transform="rotate(65 296.4 290.3)"/>
<ellipse cx="296.4" cy="296.4" rx="2.50" ry="0.92" fill="#111111" transform="rotate(55 296.4 296.4)"/>
<ellipse cx="296.4" cy="304.9" rx="3.10" ry="0.82" fill="#111111" transform="rotate(55 296.4 304.9)"/>
<ellipse cx="310.9" cy="100.5" rx="1.85" ry="1.15" fill="#9a9833" stroke="#201e0c" stroke-width="0.9" transform="rotate(40 310.9 100.5)"/>
<ellipse cx="310.9" cy="106.7" rx="1.85" ry="1.15" fill="#9a9833" stroke="#201e0c" stroke-width="0.9" transform="rotate(45 310.9 106.7)"/>
<ellipse cx="310.9" cy="115.3" rx="1.65" ry="1.05" fill="#9a9833" stroke="#201e0c" stroke-width="0.9" transform="rotate(40 310.9 115.3)"/>
<ellipse cx="310.9" cy="121.6" rx="2.10" ry="1.02" fill="#111111" transform="rotate(40 310.9 121.6)"/>
<ellipse cx="310.9" cy="130.3" rx="2.30" ry="0.82" fill="#111111" transform="rotate(45 310.9 130.3)"/>
<ellipse cx="310.9" cy="136.5" rx="2.30" ry="0.82" fill="#111111" transform="rotate(45 310.9 136.5)"/>
<ellipse cx="310.9" cy="141.4" rx="2.30" ry="0.92" fill="#111111" transform="rotate(45 310.9 141.4)"/>
<ellipse cx="310.9" cy="147.2" rx="1.35" ry="0.85" fill="#9a9833" stroke="#201e0c" stroke-width="0.9" transform="rotate(60 310.9 147.2)"/>
<ellipse cx="310.9" cy="156.2" rx="1.90" ry="1.02" fill="#111111" transform="rotate(80 310.9 156.2)"/>
<ellipse cx="310.9" cy="162.4" rx="1.70" ry="0.92" fill="#111111" transform="rotate(75 310.9 162.4)"/>
<ellipse cx="310.9" cy="170.9" rx="1.30" ry="1.02" fill="#111111"/>
<ellipse cx="310.9" cy="177.1" rx="0.80" ry="0.72" fill="#111111"/>
<ellipse cx="310.9" cy="185.9" rx="0.80" ry="0.72" fill="#111111"/>
<ellipse cx="310.9" cy="192.1" rx="1.20" ry="1.07" fill="#111111"/>
<ellipse cx="310.9" cy="245.6" rx="1.00" ry="0.92" fill="#111111"/>
<ellipse cx="310.9" cy="251.8" rx="1.20" ry="1.07" fill="#111111"/>
<ellipse cx="310.9" cy="260.3" rx="1.20" ry="1.07" fill="#111111"/>
<ellipse cx="310.9" cy="266.6" rx="1.30" ry="0.72" fill="#111111" transform="rotate(45 310.9 266.6)"/>
<ellipse cx="310.9" cy="275.3" rx="1.70" ry="1.22" fill="#111111" transform="rotate(50 310.9 275.3)"/>
<ellipse cx="310.9" cy="281.5" rx="2.10" ry="0.82" fill="#111111" transform="rotate(65 310.9 281.5)"/>
<ellipse cx="310.9" cy="290.3" rx="3.62" ry="1.12" fill="#8f2a20" stroke="#24100c" stroke-width="0.95" transform="rotate(35 310.9 290.3)"/>
<ellipse cx="320.2" cy="100.5" rx="1.40" ry="1.22" fill="#111111"/>
<ellipse cx="320.2" cy="106.7" rx="1.40" ry="0.92" fill="#111111" transform="rotate(90 320.2 106.7)"/>
<ellipse cx="320.2" cy="115.3" rx="1.20" ry="1.07" fill="#111111"/>
<ellipse cx="320.2" cy="121.6" rx="1.20" ry="1.07" fill="#111111"/>
<ellipse cx="320.2" cy="130.3" rx="0.80" ry="0.72" fill="#111111"/>
<ellipse cx="320.2" cy="136.5" rx="1.30" ry="0.52" fill="#111111" transform="rotate(45 320.2 136.5)"/>
<ellipse cx="320.2" cy="141.4" rx="1.30" ry="0.52" fill="#111111" transform="rotate(45 320.2 141.4)"/>
<ellipse cx="320.2" cy="147.2" rx="1.00" ry="0.92" fill="#111111"/>
<ellipse cx="320.2" cy="156.2" rx="1.60" ry="0.72" fill="#111111" transform="rotate(-50 320.2 156.2)"/>
<ellipse cx="320.2" cy="162.4" rx="1.40" ry="0.72" fill="#111111" transform="rotate(-50 320.2 162.4)"/>
<ellipse cx="320.2" cy="170.9" rx="1.00" ry="0.92" fill="#111111"/>
<ellipse cx="320.2" cy="177.1" rx="1.00" ry="0.92" fill="#111111"/>
<ellipse cx="320.2" cy="185.9" rx="0.80" ry="0.72" fill="#111111"/>
<ellipse cx="320.2" cy="192.1" rx="1.20" ry="1.07" fill="#111111"/>
<ellipse cx="320.2" cy="200.9" rx="1.40" ry="1.12" fill="#111111"/>
<ellipse cx="320.2" cy="206.7" rx="1.40" ry="1.12" fill="#111111"/>
<ellipse cx="320.2" cy="215.6" rx="1.40" ry="1.12" fill="#111111"/>
<ellipse cx="320.2" cy="221.8" rx="1.20" ry="1.07" fill="#111111"/>
<ellipse cx="320.2" cy="230.6" rx="1.20" ry="1.07" fill="#111111"/>
<ellipse cx="320.2" cy="236.8" rx="1.20" ry="1.07" fill="#111111"/>
<ellipse cx="320.2" cy="245.6" rx="1.20" ry="1.07" fill="#111111"/>
<ellipse cx="320.2" cy="251.8" rx="1.20" ry="1.07" fill="#111111"/>
<ellipse cx="320.2" cy="260.3" rx="1.20" ry="1.07" fill="#111111"/>
<ellipse cx="320.2" cy="266.6" rx="1.30" ry="0.72" fill="#111111" transform="rotate(90 320.2 266.6)"/>
<ellipse cx="320.2" cy="275.3" rx="1.70" ry="0.72" fill="#111111" transform="rotate(65 320.2 275.3)"/>
<ellipse cx="320.2" cy="281.5" rx="1.90" ry="0.72" fill="#111111" transform="rotate(65 320.2 281.5)"/>
<ellipse cx="320.2" cy="290.3" rx="1.50" ry="0.72" fill="#111111" transform="rotate(60 320.2 290.3)"/>
<ellipse cx="320.2" cy="296.4" rx="0.80" ry="0.72" fill="#111111"/>
<ellipse cx="320.2" cy="304.9" rx="2.70" ry="0.72" fill="#111111" transform="rotate(45 320.2 304.9)"/>
<ellipse cx="332.6" cy="115.3" rx="0.80" ry="0.72" fill="#111111"/>
<ellipse cx="332.6" cy="121.6" rx="0.80" ry="0.72" fill="#111111"/>
<ellipse cx="332.6" cy="130.3" rx="0.80" ry="0.72" fill="#111111"/>
<ellipse cx="332.6" cy="136.5" rx="0.60" ry="0.52" fill="#111111"/>
<ellipse cx="332.6" cy="141.4" rx="0.80" ry="0.72" fill="#111111"/>
<ellipse cx="332.6" cy="147.2" rx="0.80" ry="0.72" fill="#111111"/>
<ellipse cx="332.6" cy="156.2" rx="1.70" ry="0.72" fill="#111111" transform="rotate(-60 332.6 156.2)"/>
<ellipse cx="332.6" cy="162.4" rx="1.70" ry="0.72" fill="#111111" transform="rotate(90 332.6 162.4)"/>
<ellipse cx="332.6" cy="170.9" rx="1.30" ry="0.72" fill="#111111" transform="rotate(90 332.6 170.9)"/>
<ellipse cx="332.6" cy="177.1" rx="1.40" ry="0.82" fill="#111111" transform="rotate(-50 332.6 177.1)"/>
<ellipse cx="332.6" cy="185.9" rx="1.30" ry="0.72" fill="#111111" transform="rotate(-50 332.6 185.9)"/>
<ellipse cx="332.6" cy="192.1" rx="1.50" ry="0.72" fill="#111111" transform="rotate(-50 332.6 192.1)"/>
<ellipse cx="332.6" cy="200.9" rx="1.60" ry="0.72" fill="#111111" transform="rotate(-45 332.6 200.9)"/>
<ellipse cx="332.6" cy="206.7" rx="1.70" ry="0.82" fill="#111111" transform="rotate(-45 332.6 206.7)"/>
<ellipse cx="332.6" cy="215.6" rx="1.70" ry="0.92" fill="#111111" transform="rotate(-40 332.6 215.6)"/>
<ellipse cx="332.6" cy="221.8" rx="1.40" ry="1.12" fill="#111111"/>
<ellipse cx="332.6" cy="230.6" rx="1.20" ry="1.07" fill="#111111"/>
<ellipse cx="332.6" cy="236.8" rx="1.20" ry="1.07" fill="#111111"/>
<ellipse cx="332.6" cy="245.6" rx="1.20" ry="1.07" fill="#111111"/>
<ellipse cx="332.6" cy="251.8" rx="1.20" ry="1.07" fill="#111111"/>
<ellipse cx="332.6" cy="260.3" rx="1.20" ry="1.07" fill="#111111"/>
<ellipse cx="332.6" cy="266.6" rx="1.30" ry="0.72" fill="#111111" transform="rotate(90 332.6 266.6)"/>
<ellipse cx="332.6" cy="275.3" rx="1.50" ry="0.72" fill="#111111" transform="rotate(90 332.6 275.3)"/>
<ellipse cx="332.6" cy="281.5" rx="1.50" ry="0.72" fill="#111111" transform="rotate(60 332.6 281.5)"/>
<ellipse cx="332.6" cy="290.3" rx="1.40" ry="1.12" fill="#111111" transform="rotate(45 332.6 290.3)"/>
<ellipse cx="332.6" cy="296.4" rx="1.30" ry="0.52" fill="#111111" transform="rotate(45 332.6 296.4)"/>
<ellipse cx="332.6" cy="304.9" rx="2.90" ry="0.72" fill="#111111" transform="rotate(45 332.6 304.9)"/>
<ellipse cx="357.6" cy="115.3" rx="0.60" ry="0.52" fill="#111111"/>
<ellipse cx="357.6" cy="121.6" rx="0.80" ry="0.72" fill="#111111"/>
<ellipse cx="357.6" cy="130.3" rx="0.80" ry="0.72" fill="#111111"/>
<ellipse cx="357.6" cy="136.5" rx="0.80" ry="0.72" fill="#111111"/>
<ellipse cx="357.6" cy="141.4" rx="0.80" ry="0.72" fill="#111111"/>
<ellipse cx="357.6" cy="147.2" rx="0.80" ry="0.72" fill="#111111"/>
<ellipse cx="357.6" cy="156.2" rx="1.00" ry="0.92" fill="#111111"/>
<ellipse cx="357.6" cy="162.4" rx="1.20" ry="1.07" fill="#111111"/>
<ellipse cx="357.6" cy="170.9" rx="1.00" ry="0.92" fill="#111111"/>
<ellipse cx="357.6" cy="177.1" rx="1.00" ry="0.92" fill="#111111"/>
<ellipse cx="357.6" cy="185.9" rx="0.80" ry="0.72" fill="#111111"/>
<ellipse cx="357.6" cy="192.1" rx="0.80" ry="0.72" fill="#111111"/>
<ellipse cx="357.6" cy="200.9" rx="1.40" ry="0.72" fill="#111111" transform="rotate(-45 357.6 200.9)"/>
<ellipse cx="357.6" cy="206.7" rx="1.50" ry="0.82" fill="#111111" transform="rotate(-50 357.6 206.7)"/>
<ellipse cx="357.6" cy="215.6" rx="1.60" ry="0.82" fill="#111111" transform="rotate(-60 357.6 215.6)"/>
<ellipse cx="357.6" cy="221.8" rx="1.90" ry="0.82" fill="#111111" transform="rotate(-50 357.6 221.8)"/>
<ellipse cx="357.6" cy="245.6" rx="1.20" ry="1.07" fill="#111111"/>
<ellipse cx="357.6" cy="251.8" rx="1.20" ry="1.07" fill="#111111"/>
<ellipse cx="357.6" cy="260.3" rx="1.20" ry="1.07" fill="#111111"/>
<ellipse cx="357.6" cy="266.6" rx="1.30" ry="0.72" fill="#111111" transform="rotate(90 357.6 266.6)"/>
<ellipse cx="357.6" cy="275.3" rx="1.30" ry="0.72" fill="#111111" transform="rotate(90 357.6 275.3)"/>
<ellipse cx="357.6" cy="281.5" rx="1.30" ry="0.72" fill="#111111" transform="rotate(90 357.6 281.5)"/>
<ellipse cx="357.6" cy="290.3" rx="1.50" ry="0.82" fill="#111111" transform="rotate(90 357.6 290.3)"/>
<ellipse cx="357.6" cy="296.4" rx="1.20" ry="1.07" fill="#111111"/>
<ellipse cx="357.6" cy="304.9" rx="2.30" ry="0.72" fill="#111111" transform="rotate(70 357.6 304.9)"/>
<ellipse cx="382.3" cy="100.5" rx="1.40" ry="0.82" fill="#111111" transform="rotate(90 382.3 100.5)"/>
<ellipse cx="382.3" cy="106.7" rx="0.80" ry="0.72" fill="#111111"/>
<ellipse cx="382.3" cy="115.3" rx="1.00" ry="0.92" fill="#111111"/>
<ellipse cx="382.3" cy="121.6" rx="1.20" ry="1.07" fill="#111111"/>
<ellipse cx="382.3" cy="130.3" rx="1.20" ry="1.07" fill="#111111"/>
<ellipse cx="382.3" cy="136.5" rx="1.20" ry="1.07" fill="#111111"/>
<ellipse cx="382.3" cy="141.4" rx="1.40" ry="0.92" fill="#111111" transform="rotate(90 382.3 141.4)"/>
<ellipse cx="382.3" cy="147.2" rx="1.50" ry="0.92" fill="#111111" transform="rotate(90 382.3 147.2)"/>
<ellipse cx="382.3" cy="156.2" rx="1.90" ry="0.82" fill="#111111" transform="rotate(90 382.3 156.2)"/>
<ellipse cx="382.3" cy="162.4" rx="2.30" ry="0.92" fill="#111111" transform="rotate(90 382.3 162.4)"/>
<ellipse cx="382.3" cy="170.9" rx="1.90" ry="0.92" fill="#111111" transform="rotate(-75 382.3 170.9)"/>
<ellipse cx="382.3" cy="177.1" rx="1.90" ry="0.92" fill="#111111" transform="rotate(-75 382.3 177.1)"/>
<ellipse cx="382.3" cy="185.9" rx="1.60" ry="0.82" fill="#111111" transform="rotate(-60 382.3 185.9)"/>
<ellipse cx="382.3" cy="192.1" rx="2.10" ry="0.92" fill="#111111" transform="rotate(-65 382.3 192.1)"/>
<ellipse cx="382.3" cy="200.9" rx="1.40" ry="0.72" fill="#111111" transform="rotate(-40 382.3 200.9)"/>
<ellipse cx="382.3" cy="230.6" rx="1.70" ry="0.72" fill="#111111"/>
<ellipse cx="382.3" cy="236.8" rx="1.40" ry="0.62" fill="#111111"/>
<ellipse cx="382.3" cy="245.6" rx="1.30" ry="0.62" fill="#111111"/>
<ellipse cx="382.3" cy="251.8" rx="1.30" ry="0.62" fill="#111111"/>
<ellipse cx="382.3" cy="260.3" rx="1.40" ry="0.72" fill="#111111" transform="rotate(30 382.3 260.3)"/>
<ellipse cx="382.3" cy="266.6" rx="1.00" ry="0.92" fill="#111111"/>
<ellipse cx="382.3" cy="275.3" rx="1.30" ry="0.72" fill="#111111" transform="rotate(90 382.3 275.3)"/>
<ellipse cx="382.3" cy="281.5" rx="1.30" ry="0.72" fill="#111111" transform="rotate(90 382.3 281.5)"/>
<ellipse cx="382.3" cy="290.3" rx="1.50" ry="0.82" fill="#111111" transform="rotate(90 382.3 290.3)"/>
<ellipse cx="382.3" cy="296.4" rx="1.70" ry="0.82" fill="#111111" transform="rotate(35 382.3 296.4)"/>
<ellipse cx="382.3" cy="304.9" rx="2.50" ry="0.72" fill="#111111" transform="rotate(65 382.3 304.9)"/>
<ellipse cx="389.9" cy="100.5" rx="0.60" ry="0.52" fill="#111111"/>
<ellipse cx="389.9" cy="106.7" rx="1.30" ry="1.02" fill="#111111"/>
<ellipse cx="389.9" cy="115.3" rx="1.50" ry="0.92" fill="#111111"/>
<ellipse cx="389.9" cy="121.6" rx="1.60" ry="0.82" fill="#111111"/>
<ellipse cx="389.9" cy="130.3" rx="1.60" ry="0.92" fill="#111111"/>
<ellipse cx="389.9" cy="136.5" rx="1.70" ry="0.92" fill="#111111"/>
<ellipse cx="389.9" cy="141.4" rx="1.70" ry="0.92" fill="#111111"/>
<ellipse cx="389.9" cy="147.2" rx="1.40" ry="1.12" fill="#111111" transform="rotate(30 389.9 147.2)"/>
<ellipse cx="389.9" cy="156.2" rx="1.60" ry="1.02" fill="#111111" transform="rotate(-70 389.9 156.2)"/>
<ellipse cx="389.9" cy="162.4" rx="1.60" ry="1.02" fill="#111111" transform="rotate(-70 389.9 162.4)"/>
<ellipse cx="389.9" cy="170.9" rx="1.60" ry="0.92" fill="#111111" transform="rotate(-50 389.9 170.9)"/>
<ellipse cx="389.9" cy="177.1" rx="1.60" ry="0.82" fill="#111111" transform="rotate(-45 389.9 177.1)"/>
<ellipse cx="389.9" cy="185.9" rx="1.60" ry="0.62" fill="#111111" transform="rotate(-50 389.9 185.9)"/>
<ellipse cx="389.9" cy="192.1" rx="1.00" ry="0.92" fill="#111111"/>
<ellipse cx="389.9" cy="200.9" rx="1.00" ry="0.92" fill="#111111"/>
<ellipse cx="389.9" cy="206.7" rx="1.30" ry="0.62" fill="#111111" transform="rotate(90 389.9 206.7)"/>
<ellipse cx="389.9" cy="245.6" rx="1.60" ry="0.72" fill="#111111" transform="rotate(-15 389.9 245.6)"/>
<ellipse cx="389.9" cy="251.8" rx="2.30" ry="0.82" fill="#111111"/>
<ellipse cx="389.9" cy="260.3" rx="1.50" ry="0.92" fill="#111111" transform="rotate(90 389.9 260.3)"/>
<ellipse cx="389.9" cy="266.6" rx="1.70" ry="0.82" fill="#111111" transform="rotate(50 389.9 266.6)"/>
<ellipse cx="389.9" cy="275.3" rx="1.50" ry="0.72" fill="#111111" transform="rotate(60 389.9 275.3)"/>
<ellipse cx="389.9" cy="281.5" rx="1.50" ry="0.72" fill="#111111" transform="rotate(90 389.9 281.5)"/>
<ellipse cx="389.9" cy="290.3" rx="1.90" ry="0.62" fill="#111111" transform="rotate(90 389.9 290.3)"/>
<ellipse cx="389.9" cy="296.4" rx="1.90" ry="1.02" fill="#111111" transform="rotate(90 389.9 296.4)"/>
<ellipse cx="389.9" cy="304.2" rx="4.60" ry="0.57" fill="#111111" transform="rotate(80 389.9 304.2)"/>
<ellipse cx="420.8" cy="76.9" rx="1.90" ry="1.12" fill="#111111" transform="rotate(55 420.8 76.9)"/>
<ellipse cx="420.8" cy="85.5" rx="1.70" ry="1.02" fill="#111111" transform="rotate(50 420.8 85.5)"/>
<ellipse cx="420.8" cy="91.7" rx="1.40" ry="0.92" fill="#111111" transform="rotate(60 420.8 91.7)"/>
<ellipse cx="420.8" cy="100.5" rx="1.30" ry="0.72" fill="#111111" transform="rotate(45 420.8 100.5)"/>
<ellipse cx="420.8" cy="106.7" rx="0.80" ry="0.72" fill="#111111"/>
<ellipse cx="420.8" cy="115.3" rx="0.80" ry="0.72" fill="#111111"/>
<ellipse cx="420.8" cy="121.6" rx="0.80" ry="0.72" fill="#111111"/>
<ellipse cx="420.8" cy="130.3" rx="0.80" ry="0.72" fill="#111111"/>
<ellipse cx="420.8" cy="136.5" rx="1.00" ry="0.62" fill="#111111" transform="rotate(45 420.8 136.5)"/>
<ellipse cx="420.8" cy="141.4" rx="1.40" ry="0.92" fill="#111111" transform="rotate(90 420.8 141.4)"/>
<ellipse cx="420.8" cy="147.2" rx="1.50" ry="1.22" fill="#111111"/>
<ellipse cx="420.8" cy="156.2" rx="1.40" ry="1.12" fill="#111111" transform="rotate(45 420.8 156.2)"/>
<ellipse cx="420.8" cy="162.4" rx="1.60" ry="1.02" fill="#111111" transform="rotate(50 420.8 162.4)"/>
<ellipse cx="420.8" cy="170.9" rx="1.70" ry="0.62" fill="#111111" transform="rotate(55 420.8 170.9)"/>
<ellipse cx="420.8" cy="177.1" rx="1.90" ry="0.82" fill="#111111" transform="rotate(70 420.8 177.1)"/>
<ellipse cx="420.8" cy="185.9" rx="1.90" ry="0.82" fill="#111111" transform="rotate(65 420.8 185.9)"/>
<ellipse cx="420.8" cy="192.1" rx="1.90" ry="0.82" fill="#111111" transform="rotate(90 420.8 192.1)"/>
<ellipse cx="420.8" cy="200.9" rx="2.10" ry="0.82" fill="#111111" transform="rotate(90 420.8 200.9)"/>
<ellipse cx="420.8" cy="236.8" rx="0.80" ry="0.72" fill="#111111"/>
<ellipse cx="420.8" cy="245.6" rx="1.10" ry="0.72" fill="#111111" transform="rotate(90 420.8 245.6)"/>
<ellipse cx="420.8" cy="251.8" rx="1.00" ry="0.92" fill="#111111"/>
<ellipse cx="420.8" cy="260.3" rx="1.30" ry="0.72" fill="#111111" transform="rotate(90 420.8 260.3)"/>
<ellipse cx="420.8" cy="266.6" rx="1.70" ry="0.72" fill="#111111" transform="rotate(-70 420.8 266.6)"/>
<ellipse cx="420.8" cy="275.3" rx="1.70" ry="0.72" fill="#111111" transform="rotate(-65 420.8 275.3)"/>
<ellipse cx="420.8" cy="281.5" rx="0.80" ry="0.72" fill="#111111"/>
<ellipse cx="420.8" cy="290.3" rx="1.60" ry="0.82" fill="#111111" transform="rotate(50 420.8 290.3)"/>
<ellipse cx="420.8" cy="296.4" rx="3.10" ry="1.02" fill="#111111" transform="rotate(40 420.8 296.4)"/>
<ellipse cx="478.2" cy="244.0" rx="2.10" ry="0.92" fill="#111111" transform="rotate(35 478.2 244.0)"/>
<ellipse cx="478.2" cy="250.3" rx="1.90" ry="0.92" fill="#111111" transform="rotate(30 478.2 250.3)"/>
<ellipse cx="478.2" cy="258.5" rx="2.10" ry="0.82" fill="#111111" transform="rotate(20 478.2 258.5)"/>
<ellipse cx="478.2" cy="265.0" rx="2.30" ry="0.82" fill="#111111" transform="rotate(-10 478.2 265.0)"/>
<ellipse cx="478.2" cy="273.8" rx="2.30" ry="0.62" fill="#111111" transform="rotate(-15 478.2 273.8)"/>
<ellipse cx="478.2" cy="280.2" rx="2.50" ry="0.72" fill="#111111" transform="rotate(-10 478.2 280.2)"/>
<ellipse cx="478.2" cy="294.8" rx="2.10" ry="0.72" fill="#111111" transform="rotate(-20 478.2 294.8)"/>
<ellipse cx="478.2" cy="303.4" rx="0.80" ry="0.72" fill="#111111"/>
<ellipse cx="547.5" cy="242.6" rx="3.83" ry="2.62" fill="#dd3023" stroke="#24100c" stroke-width="0.95" transform="rotate(80 547.5 242.6)"/>
<ellipse cx="547.5" cy="249.6" rx="3.42" ry="2.33" fill="#dd3023" stroke="#24100c" stroke-width="0.95" transform="rotate(80 547.5 249.6)"/>
<ellipse cx="547.5" cy="258.0" rx="2.50" ry="0.52" fill="#111111" transform="rotate(-40 547.5 258.0)"/>
<ellipse cx="547.5" cy="264.8" rx="3.62" ry="0.93" fill="#9a5a28" stroke="#24100c" stroke-width="0.95" transform="rotate(-28 547.5 264.8)"/>
<ellipse cx="547.5" cy="274.2" rx="4.22" ry="1.83" fill="#dd3023" stroke="#24100c" stroke-width="0.95" transform="rotate(-25 547.5 274.2)"/>
<ellipse cx="547.5" cy="279.9" rx="4.22" ry="1.83" fill="#dd3023" stroke="#24100c" stroke-width="0.95" transform="rotate(-20 547.5 279.9)"/>
<ellipse cx="547.5" cy="289.0" rx="6.12" ry="2.33" fill="#1c1a1a" stroke="#24100c" stroke-width="0.95" transform="rotate(-23 547.5 289.0)"/>
<ellipse cx="547.5" cy="295.2" rx="5.12" ry="1.62" fill="#8f2a20" stroke="#24100c" stroke-width="0.95" transform="rotate(-20 547.5 295.2)"/>
<ellipse cx="547.5" cy="303.6" rx="3.33" ry="1.43" fill="#ea5a2c" stroke="#24100c" stroke-width="0.95"/>
</g>
<rect x="43.2" y="55.5" width="516.0" height="252.3" fill="none" stroke="#111" stroke-width="1.3"/>
<path d="M58.30,307.8v-4.6M58.30,55.5v4.6M89.61,307.8v-4.6M89.61,55.5v4.6M120.92,307.8v-4.6M120.92,55.5v4.6M152.23,307.8v-4.6M152.23,55.5v4.6M183.54,307.8v-4.6M183.54,55.5v4.6M214.85,307.8v-4.6M214.85,55.5v4.6M246.16,307.8v-4.6M246.16,55.5v4.6M277.47,307.8v-4.6M277.47,55.5v4.6M308.78,307.8v-4.6M308.78,55.5v4.6M340.09,307.8v-4.6M340.09,55.5v4.6M371.40,307.8v-4.6M371.40,55.5v4.6M402.71,307.8v-4.6M402.71,55.5v4.6M434.02,307.8v-4.6M434.02,55.5v4.6M465.33,307.8v-4.6M465.33,55.5v4.6M496.64,307.8v-4.6M496.64,55.5v4.6M527.95,307.8v-4.6M527.95,55.5v4.6M43.2,302.60h4.8M559.2,302.60h-4.8M43.2,297.68h4.8M559.2,297.68h-4.8M43.2,292.75h4.8M559.2,292.75h-4.8M43.2,287.83h4.8M559.2,287.83h-4.8M43.2,282.90h4.8M559.2,282.90h-4.8M43.2,277.98h4.8M559.2,277.98h-4.8M43.2,273.05h4.8M559.2,273.05h-4.8M43.2,268.12h4.8M559.2,268.12h-4.8M43.2,263.20h4.8M559.2,263.20h-4.8M43.2,258.28h4.8M559.2,258.28h-4.8M43.2,253.35h4.8M559.2,253.35h-4.8M43.2,248.43h4.8M559.2,248.43h-4.8M43.2,243.50h4.8M559.2,243.50h-4.8M43.2,238.58h4.8M559.2,238.58h-4.8M43.2,233.65h4.8M559.2,233.65h-4.8M43.2,228.73h4.8M559.2,228.73h-4.8M43.2,223.80h4.8M559.2,223.80h-4.8M43.2,218.88h4.8M559.2,218.88h-4.8M43.2,213.95h4.8M559.2,213.95h-4.8M43.2,209.03h4.8M559.2,209.03h-4.8M43.2,204.10h4.8M559.2,204.10h-4.8M43.2,199.18h4.8M559.2,199.18h-4.8M43.2,194.25h4.8M559.2,194.25h-4.8M43.2,189.33h4.8M559.2,189.33h-4.8M43.2,184.40h4.8M559.2,184.40h-4.8M43.2,179.48h4.8M559.2,179.48h-4.8M43.2,174.55h4.8M559.2,174.55h-4.8M43.2,169.63h4.8M559.2,169.63h-4.8M43.2,164.70h4.8M559.2,164.70h-4.8M43.2,159.78h4.8M559.2,159.78h-4.8M43.2,154.85h4.8M559.2,154.85h-4.8M43.2,149.93h4.8M559.2,149.93h-4.8M43.2,145.00h4.8M559.2,145.00h-4.8M43.2,140.08h4.8M559.2,140.08h-4.8M43.2,135.15h4.8M559.2,135.15h-4.8M43.2,130.23h4.8M559.2,130.23h-4.8M43.2,125.30h4.8M559.2,125.30h-4.8M43.2,120.38h4.8M559.2,120.38h-4.8M43.2,115.45h4.8M559.2,115.45h-4.8M43.2,110.53h4.8M559.2,110.53h-4.8M43.2,105.60h4.8M559.2,105.60h-4.8M43.2,100.68h4.8M559.2,100.68h-4.8M43.2,95.68h4.8M559.2,95.68h-4.8M43.2,90.68h4.8M559.2,90.68h-4.8M43.2,85.68h4.8M559.2,85.68h-4.8M43.2,80.68h4.8M559.2,80.68h-4.8M43.2,75.68h4.8M559.2,75.68h-4.8M43.2,70.68h4.8M559.2,70.68h-4.8M43.2,65.68h4.8M559.2,65.68h-4.8M43.2,60.68h4.8M559.2,60.68h-4.8" stroke="#111" stroke-width="1.0" fill="none"/>
<text x="38.3" y="80.00" font-size="11.5" text-anchor="end" class="tk">-2</text>
<text x="38.3" y="111.10" font-size="11.5" text-anchor="end" class="tk">-1.5</text>
<text x="38.3" y="135.50" font-size="11.5" text-anchor="end" class="tk">-1</text>
<text x="38.3" y="160.40" font-size="11.5" text-anchor="end" class="tk">-0.5</text>
<text x="38.3" y="184.60" font-size="11.5" text-anchor="end" class="tk">0</text>
<text x="38.3" y="209.60" font-size="11.5" text-anchor="end" class="tk">0.5</text>
<text x="38.3" y="234.60" font-size="11.5" text-anchor="end" class="tk">1</text>
<text x="38.3" y="259.10" font-size="11.5" text-anchor="end" class="tk">1.5</text>
<text x="38.3" y="283.40" font-size="11.5" text-anchor="end" class="tk">2</text>
<text x="38.3" y="307.60" font-size="11.5" text-anchor="end" class="tk">2.5</text>
<text x="56.90" y="321.5" font-size="11.5" text-anchor="middle" class="tk">0</text>
<text x="119.31" y="321.5" font-size="11.5" text-anchor="middle" class="tk">20</text>
<text x="181.72" y="321.5" font-size="11.5" text-anchor="middle" class="tk">40</text>
<text x="244.14" y="321.5" font-size="11.5" text-anchor="middle" class="tk">60</text>
<text x="306.55" y="321.5" font-size="11.5" text-anchor="middle" class="tk">80</text>
<text x="368.96" y="321.5" font-size="11.5" text-anchor="middle" class="tk">100</text>
<text x="431.37" y="321.5" font-size="11.5" text-anchor="middle" class="tk">120</text>
<text x="493.78" y="321.5" font-size="11.5" text-anchor="middle" class="tk">140</text>
<text x="556.20" y="321.5" font-size="11.5" text-anchor="middle" class="tk">160</text>
<text x="293" y="338.4" font-size="13.3" text-anchor="middle">distance [km]</text>
<text transform="translate(11.7 184.8) rotate(-90)" font-size="13.6" text-anchor="middle">log Period</text>
<path d="M55.7,49.6h6.6l-3.3,5.9zM72.1,49.6h6.6l-3.3,5.9zM91.4,49.6h6.6l-3.3,5.9zM109.6,49.6h6.6l-3.3,5.9zM128.4,49.6h6.6l-3.3,5.9zM143.2,49.6h6.6l-3.3,5.9zM151.3,49.6h6.6l-3.3,5.9zM158.8,49.6h6.6l-3.3,5.9zM170.1,49.6h6.6l-3.3,5.9zM175.9,49.6h6.6l-3.3,5.9zM184.4,49.6h6.6l-3.3,5.9zM196.5,49.6h6.6l-3.3,5.9zM201.5,49.6h6.6l-3.3,5.9zM210.1,49.6h6.6l-3.3,5.9zM215.4,49.6h6.6l-3.3,5.9zM227.2,49.6h6.6l-3.3,5.9zM232.9,49.6h6.6l-3.3,5.9zM253.3,49.6h6.6l-3.3,5.9zM261.0,49.6h6.6l-3.3,5.9zM268.9,49.6h6.6l-3.3,5.9zM281.9,49.6h6.6l-3.3,5.9zM295.0,49.6h6.6l-3.3,5.9zM307.3,49.6h6.6l-3.3,5.9zM317.1,49.6h6.6l-3.3,5.9zM329.2,49.6h6.6l-3.3,5.9zM354.7,49.6h6.6l-3.3,5.9zM379.1,49.6h6.6l-3.3,5.9zM386.7,49.6h6.6l-3.3,5.9zM417.3,49.6h6.6l-3.3,5.9zM475.2,49.6h6.6l-3.3,5.9zM543.7,49.6h6.6l-3.3,5.9z" fill="#111"/>
<text transform="translate(61.9 47.7) rotate(-90)" font-size="9" class="st">212</text>
<text transform="translate(78.3 47.7) rotate(-90)" font-size="9" class="st">600</text>
<text transform="translate(97.6 47.7) rotate(-90)" font-size="9" class="st">575</text>
<text transform="translate(115.8 47.7) rotate(-90)" font-size="9" class="st">550</text>
<text transform="translate(134.6 47.7) rotate(-90)" font-size="9" class="st">530</text>
<text transform="translate(149.4 47.7) rotate(-90)" font-size="9" class="st">510</text>
<text transform="translate(157.5 47.7) rotate(-90)" font-size="9" class="st">500</text>
<text transform="translate(165.0 47.7) rotate(-90)" font-size="9" class="st">490</text>
<text transform="translate(176.3 47.7) rotate(-90)" font-size="9" class="st">470</text>
<text transform="translate(182.1 47.7) rotate(-90)" font-size="9" class="st">450</text>
<text transform="translate(190.6 47.7) rotate(-90)" font-size="9" class="st">440</text>
<text transform="translate(202.7 47.7) rotate(-90)" font-size="9" class="st">420</text>
<text transform="translate(207.7 47.7) rotate(-90)" font-size="9" class="st">410</text>
<text transform="translate(216.3 47.7) rotate(-90)" font-size="9" class="st">400</text>
<text transform="translate(221.6 47.7) rotate(-90)" font-size="9" class="st">390</text>
<text transform="translate(233.4 47.7) rotate(-90)" font-size="9" class="st">385</text>
<text transform="translate(239.1 47.7) rotate(-90)" font-size="9" class="st">375</text>
<text transform="translate(259.5 47.7) rotate(-90)" font-size="9" class="st">350</text>
<text transform="translate(267.2 47.7) rotate(-90)" font-size="9" class="st">335</text>
<text transform="translate(275.1 47.7) rotate(-90)" font-size="9" class="st">325</text>
<text transform="translate(288.1 47.7) rotate(-90)" font-size="9" class="st">300</text>
<text transform="translate(301.2 47.7) rotate(-90)" font-size="9" class="st">206</text>
<text transform="translate(313.5 47.7) rotate(-90)" font-size="9" class="st">275</text>
<text transform="translate(323.3 47.7) rotate(-90)" font-size="9" class="st">255</text>
<text transform="translate(335.4 47.7) rotate(-90)" font-size="9" class="st">250</text>
<text transform="translate(360.9 47.7) rotate(-90)" font-size="9" class="st">200</text>
<text transform="translate(385.3 47.7) rotate(-90)" font-size="9" class="st">160</text>
<text transform="translate(392.9 47.7) rotate(-90)" font-size="9" class="st">150</text>
<text transform="translate(423.5 47.7) rotate(-90)" font-size="9" class="st">100</text>
<text transform="translate(481.4 47.7) rotate(-90)" font-size="9" class="st">800</text>
<text transform="translate(549.9 47.7) rotate(-90)" font-size="9" class="st">700</text>
<text x="42.4" y="19.1" font-size="13.2">NW</text>
<text x="537.6" y="21.2" font-size="13">SE</text>
<text x="199.0" y="11.3" font-size="13.4">TVZ</text>
<path d="M124.6,23.4C125.5,19.2 129,17.6 135,17.6L203,17.6C208.5,17.6 210.3,15.5 211.3,11.6C212.3,15.5 214,17.6 219.5,17.6L289,17.6C295.5,17.6 299,19 299.7,23.2" fill="none" stroke="#111" stroke-width="1.1"/>
<path d="M124.9,25.2V35.8M299.6,24V33.9M397.6,24.3V33.9M473.5,25.6V34.4" stroke="#111" stroke-width="1.2" fill="none"/>
<text x="317.6" y="24.1" font-size="9.9" font-weight="bold">Kaingaroa</text>
<text x="319.8" y="32.9" font-size="9.9" font-weight="bold">Plateau</text>
<text x="478.9" y="29.6" font-size="9.9" font-weight="bold">accretionary</text>
<text x="496.5" y="37.9" font-size="9.9" font-weight="bold">prism</text>
<text x="463.8" y="76.8" font-size="12.2">misfit tensors</text>
<rect x="459.8" y="92.4" width="74.9" height="8.2" fill="url(#cb)" stroke="#333" stroke-width="0.5"/>
<text x="461.2" y="111.1" font-size="9.5" text-anchor="middle" class="cb">0</text>
<text x="498.6" y="111.1" font-size="9.5" text-anchor="middle" class="cb">0.5</text>
<text x="534.6" y="111.1" font-size="9.5" text-anchor="middle" class="cb">1</text>
<text y="126.5" font-size="10" class="fm"><tspan x="463.3">|</tspan><tspan x="465.2" font-size="9.2">Δ</tspan><tspan x="472.0" dy="3.3" font-size="7.9">min</tspan><tspan x="486.3" dy="-3.3">|</tspan><tspan x="488.0" font-size="10">+</tspan><tspan x="493.3">|</tspan><tspan x="495.8" font-size="9.2">Δ</tspan><tspan x="504.9" dy="3.3" font-size="7.7">max</tspan><tspan x="520.3" dy="-3.3">|</tspan><tspan x="522.4">/</tspan><tspan x="525.2">2</tspan></text>
<circle cx="494.9" cy="158.8" r="5.4" fill="#111"/>
<text x="496.1" y="176.0" font-size="8.8" font-weight="bold" text-anchor="middle">Δ=1</text>
</svg></body></html>
